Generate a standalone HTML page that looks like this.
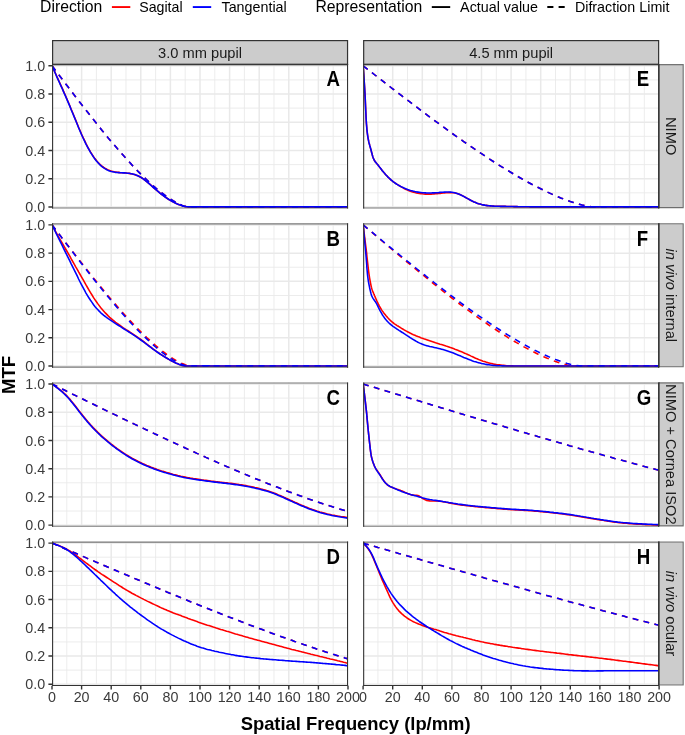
<!DOCTYPE html>
<html lang="en"><head><meta charset="utf-8"><title>MTF</title>
<style>html,body{margin:0;padding:0;background:#fff}svg{display:block}</style>
</head><body>
<svg width="685" height="735" viewBox="0 0 685 735" font-family="'Liberation Sans', Arial, Helvetica, sans-serif">
<rect width="685" height="735" fill="#fff"/>
<g>
<path d="M66.80 64.66V208.05M96.40 64.66V208.05M126.00 64.66V208.05M155.60 64.66V208.05M185.20 64.66V208.05M214.80 64.66V208.05M244.40 64.66V208.05M274.00 64.66V208.05M303.60 64.66V208.05M333.20 64.66V208.05M52.6 192.83H347.55M52.6 164.60H347.55M52.6 136.37H347.55M52.6 108.14H347.55M52.6 79.91H347.55" stroke="#e9e9e9" stroke-width="0.85" fill="none"/>
<path d="M81.60 64.66V208.05M111.20 64.66V208.05M140.80 64.66V208.05M170.40 64.66V208.05M200.00 64.66V208.05M229.60 64.66V208.05M259.20 64.66V208.05M288.80 64.66V208.05M318.40 64.66V208.05M52.6 206.94H347.55M52.6 178.71H347.55M52.6 150.48H347.55M52.6 122.26H347.55M52.6 94.03H347.55M52.6 65.80H347.55" stroke="#e9e9e9" stroke-width="1.5" fill="none"/>
<clipPath id="cp00"><rect x="52.6" y="64.66" width="294.95" height="143.39"/></clipPath>
<g clip-path="url(#cp00)" fill="none" stroke-width="1.58" stroke-linejoin="round">
<path d="M52 65.8L53.5 69L55 72.3L56.4 75.5L57.9 78.8L59.4 82L60.9 85.3L62.4 88.6L63.8 91.9L65.3 95.3L66.8 98.7L68.3 102.2L69.8 105.7L71.2 109.2L72.7 112.8L74.2 116.5L75.7 120.1L77.2 123.7L78.6 127.3L80.1 130.8L81.6 134.3L83.1 137.5L84.6 140.7L86 143.7L87.5 146.6L89 149.3L90.5 151.9L92 154.3L93.4 156.5L94.9 158.6L96.4 160.5L97.9 162.2L99.4 163.8L100.8 165.1L102.3 166.4L103.8 167.5L105.3 168.4L106.8 169.2L108.2 169.9L109.7 170.5L111.2 171L112.7 171.4L114.2 171.8L115.6 172L117.1 172.3L118.6 172.4L120.1 172.6L121.6 172.7L123 172.8L124.5 172.9L126 173L127.5 173.2L129 173.4L130.4 173.6L131.9 173.9L133.4 174.2L134.9 174.7L136.4 175.2L137.8 175.8L139.3 176.5L140.8 177.3L142.3 178.2L143.8 179.3L145.2 180.4L146.7 181.6L148.2 182.8L149.7 184.1L151.2 185.4L152.6 186.8L154.1 188.1L155.6 189.4L157.1 190.7L158.6 191.9L160 193.1L161.5 194.3L163 195.4L164.5 196.5L166 197.5L167.4 198.5L168.9 199.5L170.4 200.4L171.9 201.3L173.4 202.1L174.8 202.8L176.3 203.6L177.8 204.2L179.3 204.8L180.8 205.3L182.2 205.8L183.7 206.2L185.2 206.5L186.7 206.8L188.2 206.9L189.6 206.9L191.1 206.9L192.6 206.9L194.1 206.9L195.6 206.9L197 206.9L198.5 206.9L200 206.9L201.5 206.9L203 206.9L204.4 206.9L205.9 206.9L207.4 206.9L208.9 206.9L210.4 206.9L211.8 206.9L213.3 206.9L214.8 206.9L216.3 206.9L217.8 206.9L219.2 206.9L220.7 206.9L222.2 206.9L223.7 206.9L225.2 206.9L226.6 206.9L228.1 206.9L229.6 206.9L231.1 206.9L232.6 206.9L234 206.9L235.5 206.9L237 206.9L238.5 206.9L240 206.9L241.4 206.9L242.9 206.9L244.4 206.9L245.9 206.9L247.4 206.9L248.8 206.9L250.3 206.9L251.8 206.9L253.3 206.9L254.8 206.9L256.2 206.9L257.7 206.9L259.2 206.9L260.7 206.9L262.2 206.9L263.6 206.9L265.1 206.9L266.6 206.9L268.1 206.9L269.6 206.9L271 206.9L272.5 206.9L274 206.9L275.5 206.9L277 206.9L278.4 206.9L279.9 206.9L281.4 206.9L282.9 206.9L284.4 206.9L285.8 206.9L287.3 206.9L288.8 206.9L290.3 206.9L291.8 206.9L293.2 206.9L294.7 206.9L296.2 206.9L297.7 206.9L299.2 206.9L300.6 206.9L302.1 206.9L303.6 206.9L305.1 206.9L306.6 206.9L308 206.9L309.5 206.9L311 206.9L312.5 206.9L314 206.9L315.4 206.9L316.9 206.9L318.4 206.9L319.9 206.9L321.4 206.9L322.8 206.9L324.3 206.9L325.8 206.9L327.3 206.9L328.8 206.9L330.2 206.9L331.7 206.9L333.2 206.9L334.7 206.9L336.2 206.9L337.6 206.9L339.1 206.9L340.6 206.9L342.1 206.9L343.6 206.9L345 206.9L346.5 206.9L348 206.9" stroke="#ff0000"/>
<path d="M52 65.8L55 69.7L57.9 73.6L60.9 77.5L63.8 81.4L66.8 85.3L69.8 89.2L72.7 93L75.7 96.9L78.6 100.7L81.6 104.6L84.6 108.4L87.5 112.1L90.5 115.9L93.4 119.6L96.4 123.3L99.4 127L102.3 130.7L105.3 134.3L108.2 137.9L111.2 141.4L114.2 144.9L117.1 148.3L120.1 151.8L123 155.1L126 158.4L129 161.7L131.9 164.9L134.9 168L137.8 171.1L140.8 174.1L143.8 177L146.7 179.8L149.7 182.6L152.6 185.3L155.6 187.9L158.6 190.3L161.5 192.7L164.5 195L167.4 197.1L170.4 199.1L173.4 201L176.3 202.7L179.3 204.1L182.2 205.4L185.2 206.4L188.2 206.9L191.1 206.9L194.1 206.9L197 206.9L200 206.9L203 206.9L205.9 206.9L208.9 206.9L211.8 206.9L214.8 206.9L217.8 206.9L220.7 206.9L223.7 206.9L226.6 206.9L229.6 206.9L232.6 206.9L235.5 206.9L238.5 206.9L241.4 206.9L244.4 206.9L247.4 206.9L250.3 206.9L253.3 206.9L256.2 206.9L259.2 206.9L262.2 206.9L265.1 206.9L268.1 206.9L271 206.9L274 206.9L277 206.9L279.9 206.9L282.9 206.9L285.8 206.9L288.8 206.9L291.8 206.9L294.7 206.9L297.7 206.9L300.6 206.9L303.6 206.9L306.6 206.9L309.5 206.9L312.5 206.9L315.4 206.9L318.4 206.9L321.4 206.9L324.3 206.9L327.3 206.9L330.2 206.9L333.2 206.9L336.2 206.9L339.1 206.9L342.1 206.9L345 206.9L348 206.9" stroke="#ff0000" stroke-dasharray="5.8 5.4"/>
<path d="M52 65.8L53.5 69.1L55 72.5L56.4 75.8L57.9 79.1L59.4 82.5L60.9 85.8L62.4 89L63.8 92.4L65.3 95.7L66.8 99.1L68.3 102.6L69.8 106.1L71.2 109.7L72.7 113.3L74.2 116.9L75.7 120.5L77.2 124.2L78.6 127.7L80.1 131.3L81.6 134.7L83.1 138L84.6 141.1L86 144.1L87.5 147L89 149.7L90.5 152.3L92 154.7L93.4 156.9L94.9 159L96.4 160.9L97.9 162.6L99.4 164.2L100.8 165.6L102.3 166.8L103.8 167.9L105.3 168.9L106.8 169.7L108.2 170.4L109.7 171L111.2 171.5L112.7 171.8L114.2 172.1L115.6 172.4L117.1 172.5L118.6 172.6L120.1 172.7L121.6 172.8L123 172.9L124.5 172.9L126 173L127.5 173.2L129 173.3L130.4 173.6L131.9 173.8L133.4 174.2L134.9 174.6L136.4 175.2L137.8 175.8L139.3 176.5L140.8 177.3L142.3 178.2L143.8 179.3L145.2 180.4L146.7 181.6L148.2 182.8L149.7 184.1L151.2 185.5L152.6 186.8L154.1 188.1L155.6 189.4L157.1 190.7L158.6 191.9L160 193.1L161.5 194.3L163 195.4L164.5 196.5L166 197.5L167.4 198.5L168.9 199.5L170.4 200.4L171.9 201.3L173.4 202.1L174.8 202.8L176.3 203.6L177.8 204.2L179.3 204.8L180.8 205.3L182.2 205.8L183.7 206.2L185.2 206.5L186.7 206.8L188.2 206.9L189.6 206.9L191.1 206.9L192.6 206.9L194.1 206.9L195.6 206.9L197 206.9L198.5 206.9L200 206.9L201.5 206.9L203 206.9L204.4 206.9L205.9 206.9L207.4 206.9L208.9 206.9L210.4 206.9L211.8 206.9L213.3 206.9L214.8 206.9L216.3 206.9L217.8 206.9L219.2 206.9L220.7 206.9L222.2 206.9L223.7 206.9L225.2 206.9L226.6 206.9L228.1 206.9L229.6 206.9L231.1 206.9L232.6 206.9L234 206.9L235.5 206.9L237 206.9L238.5 206.9L240 206.9L241.4 206.9L242.9 206.9L244.4 206.9L245.9 206.9L247.4 206.9L248.8 206.9L250.3 206.9L251.8 206.9L253.3 206.9L254.8 206.9L256.2 206.9L257.7 206.9L259.2 206.9L260.7 206.9L262.2 206.9L263.6 206.9L265.1 206.9L266.6 206.9L268.1 206.9L269.6 206.9L271 206.9L272.5 206.9L274 206.9L275.5 206.9L277 206.9L278.4 206.9L279.9 206.9L281.4 206.9L282.9 206.9L284.4 206.9L285.8 206.9L287.3 206.9L288.8 206.9L290.3 206.9L291.8 206.9L293.2 206.9L294.7 206.9L296.2 206.9L297.7 206.9L299.2 206.9L300.6 206.9L302.1 206.9L303.6 206.9L305.1 206.9L306.6 206.9L308 206.9L309.5 206.9L311 206.9L312.5 206.9L314 206.9L315.4 206.9L316.9 206.9L318.4 206.9L319.9 206.9L321.4 206.9L322.8 206.9L324.3 206.9L325.8 206.9L327.3 206.9L328.8 206.9L330.2 206.9L331.7 206.9L333.2 206.9L334.7 206.9L336.2 206.9L337.6 206.9L339.1 206.9L340.6 206.9L342.1 206.9L343.6 206.9L345 206.9L346.5 206.9L348 206.9" stroke="#0000ff"/>
<path d="M52 65.8L55 69.7L57.9 73.6L60.9 77.5L63.8 81.4L66.8 85.3L69.8 89.2L72.7 93L75.7 96.9L78.6 100.7L81.6 104.6L84.6 108.4L87.5 112.1L90.5 115.9L93.4 119.6L96.4 123.3L99.4 127L102.3 130.7L105.3 134.3L108.2 137.9L111.2 141.4L114.2 144.9L117.1 148.3L120.1 151.8L123 155.1L126 158.4L129 161.7L131.9 164.9L134.9 168L137.8 171.1L140.8 174.1L143.8 177L146.7 179.8L149.7 182.6L152.6 185.3L155.6 187.9L158.6 190.3L161.5 192.7L164.5 195L167.4 197.1L170.4 199.1L173.4 201L176.3 202.7L179.3 204.1L182.2 205.4L185.2 206.4L188.2 206.9L191.1 206.9L194.1 206.9L197 206.9L200 206.9L203 206.9L205.9 206.9L208.9 206.9L211.8 206.9L214.8 206.9L217.8 206.9L220.7 206.9L223.7 206.9L226.6 206.9L229.6 206.9L232.6 206.9L235.5 206.9L238.5 206.9L241.4 206.9L244.4 206.9L247.4 206.9L250.3 206.9L253.3 206.9L256.2 206.9L259.2 206.9L262.2 206.9L265.1 206.9L268.1 206.9L271 206.9L274 206.9L277 206.9L279.9 206.9L282.9 206.9L285.8 206.9L288.8 206.9L291.8 206.9L294.7 206.9L297.7 206.9L300.6 206.9L303.6 206.9L306.6 206.9L309.5 206.9L312.5 206.9L315.4 206.9L318.4 206.9L321.4 206.9L324.3 206.9L327.3 206.9L330.2 206.9L333.2 206.9L336.2 206.9L339.1 206.9L342.1 206.9L345 206.9L348 206.9" stroke="#0000ff" stroke-dasharray="5.8 5.4"/>
</g>
<path d="M52.6 64.11V208.55M347.55 64.11V208.55" stroke="#333333" stroke-width="1.1" fill="none"/>
<path d="M52.05 64.66H348.10" stroke="#333333" stroke-width="1.1" fill="none" stroke-opacity="1"/>
<path d="M52.05 208.00H348.10" stroke="#333333" stroke-width="1.1" fill="none" stroke-opacity="0.66"/>
<text transform="translate(326.6,86.41) scale(0.86,1)" font-size="21.7" font-weight="bold" fill="#000">A</text>
</g>
<g>
<path d="M66.80 223.76V367.15M96.40 223.76V367.15M126.00 223.76V367.15M155.60 223.76V367.15M185.20 223.76V367.15M214.80 223.76V367.15M244.40 223.76V367.15M274.00 223.76V367.15M303.60 223.76V367.15M333.20 223.76V367.15M52.6 351.93H347.55M52.6 323.70H347.55M52.6 295.47H347.55M52.6 267.24H347.55M52.6 239.01H347.55" stroke="#e9e9e9" stroke-width="0.85" fill="none"/>
<path d="M81.60 223.76V367.15M111.20 223.76V367.15M140.80 223.76V367.15M170.40 223.76V367.15M200.00 223.76V367.15M229.60 223.76V367.15M259.20 223.76V367.15M288.80 223.76V367.15M318.40 223.76V367.15M52.6 366.04H347.55M52.6 337.81H347.55M52.6 309.58H347.55M52.6 281.36H347.55M52.6 253.13H347.55M52.6 224.90H347.55" stroke="#e9e9e9" stroke-width="1.5" fill="none"/>
<clipPath id="cp01"><rect x="52.6" y="223.76" width="294.95" height="143.39"/></clipPath>
<g clip-path="url(#cp01)" fill="none" stroke-width="1.58" stroke-linejoin="round">
<path d="M52 224.9L53.5 227.6L55 230.3L56.4 233L57.9 235.7L59.4 238.3L60.9 240.9L62.4 243.4L63.8 245.9L65.3 248.5L66.8 251L68.3 253.6L69.8 256.2L71.2 258.9L72.7 261.5L74.2 264.1L75.7 266.8L77.2 269.3L78.6 271.9L80.1 274.5L81.6 277.1L83.1 279.7L84.6 282.3L86 284.9L87.5 287.5L89 290.1L90.5 292.6L92 295L93.4 297.4L94.9 299.6L96.4 301.8L97.9 303.9L99.4 305.9L100.8 307.8L102.3 309.5L103.8 311.2L105.3 312.9L106.8 314.4L108.2 315.9L109.7 317.3L111.2 318.6L112.7 319.9L114.2 321.1L115.6 322.3L117.1 323.4L118.6 324.5L120.1 325.5L121.6 326.6L123 327.6L124.5 328.6L126 329.6L127.5 330.5L129 331.5L130.4 332.5L131.9 333.4L133.4 334.4L134.9 335.4L136.4 336.4L137.8 337.4L139.3 338.5L140.8 339.5L142.3 340.6L143.8 341.7L145.2 342.9L146.7 344L148.2 345.2L149.7 346.3L151.2 347.4L152.6 348.6L154.1 349.7L155.6 350.8L157.1 351.8L158.6 352.9L160 353.9L161.5 354.9L163 355.8L164.5 356.7L166 357.6L167.4 358.5L168.9 359.4L170.4 360.2L171.9 361L173.4 361.8L174.8 362.5L176.3 363.2L177.8 363.8L179.3 364.4L180.8 364.9L182.2 365.4L183.7 365.7L185.2 366L186.7 366L188.2 366L189.6 366L191.1 366L192.6 366L194.1 366L195.6 366L197 366L198.5 366L200 366L201.5 366L203 365.9L204.4 365.9L205.9 365.9L207.4 365.9L208.9 365.9L210.4 366L211.8 366L213.3 366L214.8 366L216.3 366L217.8 366L219.2 366L220.7 366L222.2 366L223.7 366L225.2 366L226.6 366L228.1 366L229.6 366L231.1 366L232.6 366L234 366L235.5 366L237 366L238.5 366L240 366L241.4 366L242.9 366L244.4 366L245.9 366L247.4 366L248.8 366L250.3 366L251.8 366L253.3 366L254.8 366L256.2 366L257.7 366L259.2 366L260.7 366L262.2 366L263.6 366L265.1 366L266.6 366L268.1 366L269.6 366L271 366L272.5 366L274 366L275.5 366L277 366L278.4 366L279.9 366L281.4 366L282.9 366L284.4 366L285.8 366L287.3 366L288.8 366L290.3 366L291.8 366L293.2 366L294.7 366L296.2 366L297.7 366L299.2 366L300.6 366L302.1 366L303.6 366L305.1 366L306.6 366L308 366L309.5 366L311 366L312.5 366L314 366L315.4 366L316.9 366L318.4 366L319.9 366L321.4 366L322.8 366L324.3 366L325.8 366L327.3 366L328.8 366L330.2 366L331.7 366L333.2 366L334.7 366L336.2 366L337.6 366L339.1 366L340.6 366L342.1 366L343.6 366L345 366L346.5 366L348 366" stroke="#ff0000"/>
<path d="M52 224.9L55 228.7L57.9 232.6L60.9 236.4L63.8 240.3L66.8 244.1L69.8 247.9L72.7 251.7L75.7 255.5L78.6 259.3L81.6 263L84.6 266.8L87.5 270.5L90.5 274.2L93.4 277.9L96.4 281.6L99.4 285.2L102.3 288.8L105.3 292.3L108.2 295.9L111.2 299.4L114.2 302.8L117.1 306.2L120.1 309.6L123 312.9L126 316.2L129 319.4L131.9 322.6L134.9 325.7L137.8 328.7L140.8 331.7L143.8 334.6L146.7 337.5L149.7 340.2L152.6 342.9L155.6 345.5L158.6 348L161.5 350.4L164.5 352.7L167.4 354.9L170.4 356.9L173.4 358.9L176.3 360.6L179.3 362.2L182.2 363.6L185.2 364.8L188.2 365.7L191.1 366L194.1 366L197 366L200 366L203 366L205.9 366L208.9 366L211.8 366L214.8 366L217.8 366L220.7 366L223.7 366L226.6 366L229.6 366L232.6 366L235.5 366L238.5 366L241.4 366L244.4 366L247.4 366L250.3 366L253.3 366L256.2 366L259.2 366L262.2 366L265.1 366L268.1 366L271 366L274 366L277 366L279.9 366L282.9 366L285.8 366L288.8 366L291.8 366L294.7 366L297.7 366L300.6 366L303.6 366L306.6 366L309.5 366L312.5 366L315.4 366L318.4 366L321.4 366L324.3 366L327.3 366L330.2 366L333.2 366L336.2 366L339.1 366L342.1 366L345 366L348 366" stroke="#ff0000" stroke-dasharray="5.8 5.4"/>
<path d="M52 224.9L53.5 227.9L55 230.9L56.4 233.9L57.9 236.9L59.4 239.9L60.9 242.9L62.4 245.9L63.8 248.8L65.3 251.8L66.8 254.8L68.3 257.8L69.8 260.8L71.2 263.8L72.7 266.8L74.2 269.8L75.7 272.8L77.2 275.9L78.6 279L80.1 282L81.6 284.9L83.1 287.7L84.6 290.4L86 293.1L87.5 295.6L89 298L90.5 300.3L92 302.4L93.4 304.5L94.9 306.4L96.4 308.2L97.9 309.8L99.4 311.4L100.8 312.8L102.3 314.1L103.8 315.4L105.3 316.5L106.8 317.7L108.2 318.7L109.7 319.7L111.2 320.7L112.7 321.7L114.2 322.7L115.6 323.6L117.1 324.5L118.6 325.5L120.1 326.4L121.6 327.3L123 328.3L124.5 329.2L126 330.1L127.5 331.1L129 332L130.4 332.9L131.9 333.9L133.4 334.9L134.9 335.9L136.4 336.9L137.8 337.9L139.3 338.9L140.8 340L142.3 341L143.8 342.1L145.2 343.2L146.7 344.3L148.2 345.5L149.7 346.6L151.2 347.7L152.6 348.8L154.1 349.9L155.6 350.9L157.1 352L158.6 353L160 354L161.5 354.9L163 355.9L164.5 356.8L166 357.7L167.4 358.5L168.9 359.4L170.4 360.2L171.9 361L173.4 361.8L174.8 362.5L176.3 363.2L177.8 363.8L179.3 364.4L180.8 364.9L182.2 365.4L183.7 365.7L185.2 366L186.7 366L188.2 366L189.6 366L191.1 366L192.6 366L194.1 366L195.6 366L197 366L198.5 366L200 366L201.5 366L203 365.9L204.4 365.9L205.9 365.9L207.4 365.9L208.9 365.9L210.4 366L211.8 366L213.3 366L214.8 366L216.3 366L217.8 366L219.2 366L220.7 366L222.2 366L223.7 366L225.2 366L226.6 366L228.1 366L229.6 366L231.1 366L232.6 366L234 366L235.5 366L237 366L238.5 366L240 366L241.4 366L242.9 366L244.4 366L245.9 366L247.4 366L248.8 366L250.3 366L251.8 366L253.3 366L254.8 366L256.2 366L257.7 366L259.2 366L260.7 366L262.2 366L263.6 366L265.1 366L266.6 366L268.1 366L269.6 366L271 366L272.5 366L274 366L275.5 366L277 366L278.4 366L279.9 366L281.4 366L282.9 366L284.4 366L285.8 366L287.3 366L288.8 366L290.3 366L291.8 366L293.2 366L294.7 366L296.2 366L297.7 366L299.2 366L300.6 366L302.1 366L303.6 366L305.1 366L306.6 366L308 366L309.5 366L311 366L312.5 366L314 366L315.4 366L316.9 366L318.4 366L319.9 366L321.4 366L322.8 366L324.3 366L325.8 366L327.3 366L328.8 366L330.2 366L331.7 366L333.2 366L334.7 366L336.2 366L337.6 366L339.1 366L340.6 366L342.1 366L343.6 366L345 366L346.5 366L348 366" stroke="#0000ff"/>
<path d="M52 224.9L55 228.8L57.9 232.7L60.9 236.6L63.8 240.5L66.8 244.4L69.8 248.3L72.7 252.1L75.7 256L78.6 259.8L81.6 263.7L84.6 267.5L87.5 271.2L90.5 275L93.4 278.7L96.4 282.4L99.4 286.1L102.3 289.8L105.3 293.4L108.2 297L111.2 300.5L114.2 304L117.1 307.4L120.1 310.9L123 314.2L126 317.5L129 320.8L131.9 324L134.9 327.1L137.8 330.2L140.8 333.2L143.8 336.1L146.7 338.9L149.7 341.7L152.6 344.4L155.6 347L158.6 349.4L161.5 351.8L164.5 354.1L167.4 356.2L170.4 358.2L173.4 360.1L176.3 361.8L179.3 363.2L182.2 364.5L185.2 365.5L188.2 366L191.1 366L194.1 366L197 366L200 366L203 366L205.9 366L208.9 366L211.8 366L214.8 366L217.8 366L220.7 366L223.7 366L226.6 366L229.6 366L232.6 366L235.5 366L238.5 366L241.4 366L244.4 366L247.4 366L250.3 366L253.3 366L256.2 366L259.2 366L262.2 366L265.1 366L268.1 366L271 366L274 366L277 366L279.9 366L282.9 366L285.8 366L288.8 366L291.8 366L294.7 366L297.7 366L300.6 366L303.6 366L306.6 366L309.5 366L312.5 366L315.4 366L318.4 366L321.4 366L324.3 366L327.3 366L330.2 366L333.2 366L336.2 366L339.1 366L342.1 366L345 366L348 366" stroke="#0000ff" stroke-dasharray="5.8 5.4"/>
</g>
<path d="M52.6 223.36V367.65M347.55 223.36V367.65" stroke="#333333" stroke-width="1.1" fill="none"/>
<path d="M52.05 223.91H348.10" stroke="#333333" stroke-width="1.1" fill="none" stroke-opacity="0.66"/>
<path d="M52.05 367.10H348.10" stroke="#333333" stroke-width="1.1" fill="none" stroke-opacity="0.66"/>
<text transform="translate(326.6,245.51) scale(0.86,1)" font-size="21.7" font-weight="bold" fill="#000">B</text>
</g>
<g>
<path d="M66.80 382.86V526.25M96.40 382.86V526.25M126.00 382.86V526.25M155.60 382.86V526.25M185.20 382.86V526.25M214.80 382.86V526.25M244.40 382.86V526.25M274.00 382.86V526.25M303.60 382.86V526.25M333.20 382.86V526.25M52.6 511.03H347.55M52.6 482.80H347.55M52.6 454.57H347.55M52.6 426.34H347.55M52.6 398.11H347.55" stroke="#e9e9e9" stroke-width="0.85" fill="none"/>
<path d="M81.60 382.86V526.25M111.20 382.86V526.25M140.80 382.86V526.25M170.40 382.86V526.25M200.00 382.86V526.25M229.60 382.86V526.25M259.20 382.86V526.25M288.80 382.86V526.25M318.40 382.86V526.25M52.6 525.14H347.55M52.6 496.91H347.55M52.6 468.68H347.55M52.6 440.46H347.55M52.6 412.23H347.55M52.6 384.00H347.55" stroke="#e9e9e9" stroke-width="1.5" fill="none"/>
<clipPath id="cp02"><rect x="52.6" y="382.86" width="294.95" height="143.39"/></clipPath>
<g clip-path="url(#cp02)" fill="none" stroke-width="1.58" stroke-linejoin="round">
<path d="M52 384L53.5 385L55 386L56.4 387.1L57.9 388.2L59.4 389.3L60.9 390.5L62.4 391.7L63.8 393L65.3 394.4L66.8 395.9L68.3 397.5L69.8 399.1L71.2 400.9L72.7 402.7L74.2 404.6L75.7 406.5L77.2 408.4L78.6 410.3L80.1 412.2L81.6 414.1L83.1 416L84.6 417.8L86 419.6L87.5 421.3L89 423L90.5 424.7L92 426.3L93.4 427.9L94.9 429.4L96.4 430.9L97.9 432.4L99.4 433.8L100.8 435.2L102.3 436.6L103.8 437.9L105.3 439.2L106.8 440.4L108.2 441.7L109.7 442.9L111.2 444.1L112.7 445.2L114.2 446.4L115.6 447.5L117.1 448.6L118.6 449.6L120.1 450.7L121.6 451.7L123 452.7L124.5 453.7L126 454.6L127.5 455.5L129 456.4L130.4 457.3L131.9 458.1L133.4 458.9L134.9 459.7L136.4 460.5L137.8 461.3L139.3 462L140.8 462.7L142.3 463.4L143.8 464.1L145.2 464.7L146.7 465.4L148.2 466L149.7 466.6L151.2 467.2L152.6 467.7L154.1 468.3L155.6 468.8L157.1 469.4L158.6 469.9L160 470.4L161.5 470.9L163 471.3L164.5 471.8L166 472.3L167.4 472.7L168.9 473.1L170.4 473.6L171.9 474L173.4 474.4L174.8 474.7L176.3 475.1L177.8 475.5L179.3 475.8L180.8 476.2L182.2 476.5L183.7 476.8L185.2 477.1L186.7 477.4L188.2 477.7L189.6 477.9L191.1 478.2L192.6 478.4L194.1 478.7L195.6 478.9L197 479.1L198.5 479.3L200 479.5L201.5 479.8L203 480L204.4 480.2L205.9 480.4L207.4 480.6L208.9 480.8L210.4 481L211.8 481.2L213.3 481.3L214.8 481.5L216.3 481.7L217.8 481.9L219.2 482L220.7 482.2L222.2 482.4L223.7 482.5L225.2 482.7L226.6 482.9L228.1 483.1L229.6 483.2L231.1 483.4L232.6 483.6L234 483.8L235.5 484L237 484.2L238.5 484.4L240 484.7L241.4 484.9L242.9 485.1L244.4 485.4L245.9 485.6L247.4 485.9L248.8 486.2L250.3 486.5L251.8 486.8L253.3 487.1L254.8 487.5L256.2 487.8L257.7 488.1L259.2 488.5L260.7 488.9L262.2 489.3L263.6 489.7L265.1 490.1L266.6 490.6L268.1 491L269.6 491.5L271 492L272.5 492.5L274 493.1L275.5 493.6L277 494.2L278.4 494.9L279.9 495.5L281.4 496.1L282.9 496.8L284.4 497.5L285.8 498.1L287.3 498.8L288.8 499.5L290.3 500.2L291.8 500.8L293.2 501.5L294.7 502.2L296.2 502.8L297.7 503.5L299.2 504.2L300.6 504.8L302.1 505.4L303.6 506L305.1 506.7L306.6 507.2L308 507.8L309.5 508.4L311 508.9L312.5 509.5L314 510L315.4 510.5L316.9 511L318.4 511.4L319.9 511.9L321.4 512.3L322.8 512.7L324.3 513.1L325.8 513.5L327.3 513.9L328.8 514.2L330.2 514.5L331.7 514.9L333.2 515.2L334.7 515.4L336.2 515.7L337.6 516L339.1 516.2L340.6 516.5L342.1 516.7L343.6 516.9L345 517.1L346.5 517.4L348 517.6" stroke="#ff0000"/>
<path d="M52 384L55 385.5L57.9 386.9L60.9 388.4L63.8 389.8L66.8 391.3L69.8 392.7L72.7 394.2L75.7 395.6L78.6 397.1L81.6 398.5L84.6 400L87.5 401.4L90.5 402.9L93.4 404.3L96.4 405.8L99.4 407.2L102.3 408.7L105.3 410.1L108.2 411.5L111.2 413L114.2 414.4L117.1 415.8L120.1 417.3L123 418.7L126 420.1L129 421.6L131.9 423L134.9 424.4L137.8 425.8L140.8 427.2L143.8 428.6L146.7 430L149.7 431.4L152.6 432.8L155.6 434.2L158.6 435.6L161.5 437L164.5 438.4L167.4 439.8L170.4 441.2L173.4 442.5L176.3 443.9L179.3 445.3L182.2 446.6L185.2 448L188.2 449.4L191.1 450.7L194.1 452L197 453.4L200 454.7L203 456L205.9 457.4L208.9 458.7L211.8 460L214.8 461.3L217.8 462.6L220.7 463.9L223.7 465.2L226.6 466.5L229.6 467.7L232.6 469L235.5 470.3L238.5 471.5L241.4 472.8L244.4 474L247.4 475.2L250.3 476.5L253.3 477.7L256.2 478.9L259.2 480.1L262.2 481.3L265.1 482.5L268.1 483.7L271 484.8L274 486L277 487.1L279.9 488.3L282.9 489.4L285.8 490.5L288.8 491.7L291.8 492.8L294.7 493.9L297.7 494.9L300.6 496L303.6 497.1L306.6 498.1L309.5 499.2L312.5 500.2L315.4 501.2L318.4 502.2L321.4 503.2L324.3 504.2L327.3 505.1L330.2 506.1L333.2 507L336.2 507.9L339.1 508.9L342.1 509.7L345 510.6L348 511.5" stroke="#ff0000" stroke-dasharray="5.8 5.4"/>
<path d="M52 384L53.5 385.1L55 386.2L56.4 387.3L57.9 388.4L59.4 389.6L60.9 390.9L62.4 392.1L63.8 393.5L65.3 394.9L66.8 396.4L68.3 398.1L69.8 399.8L71.2 401.5L72.7 403.3L74.2 405.2L75.7 407.1L77.2 409L78.6 410.9L80.1 412.8L81.6 414.7L83.1 416.5L84.6 418.4L86 420.1L87.5 421.9L89 423.6L90.5 425.2L92 426.9L93.4 428.5L94.9 430L96.4 431.5L97.9 433L99.4 434.4L100.8 435.8L102.3 437.1L103.8 438.5L105.3 439.7L106.8 441L108.2 442.2L109.7 443.4L111.2 444.6L112.7 445.8L114.2 446.9L115.6 448L117.1 449.1L118.6 450.2L120.1 451.2L121.6 452.3L123 453.2L124.5 454.2L126 455.2L127.5 456.1L129 457L130.4 457.8L131.9 458.7L133.4 459.5L134.9 460.3L136.4 461.1L137.8 461.8L139.3 462.6L140.8 463.3L142.3 464L143.8 464.7L145.2 465.3L146.7 465.9L148.2 466.6L149.7 467.2L151.2 467.8L152.6 468.3L154.1 468.9L155.6 469.4L157.1 469.9L158.6 470.5L160 471L161.5 471.4L163 471.9L164.5 472.4L166 472.8L167.4 473.3L168.9 473.7L170.4 474.1L171.9 474.5L173.4 474.9L174.8 475.3L176.3 475.7L177.8 476L179.3 476.4L180.8 476.7L182.2 477.1L183.7 477.4L185.2 477.7L186.7 478L188.2 478.2L189.6 478.5L191.1 478.7L192.6 479L194.1 479.2L195.6 479.4L197 479.7L198.5 479.9L200 480.1L201.5 480.3L203 480.5L204.4 480.7L205.9 480.9L207.4 481.1L208.9 481.3L210.4 481.5L211.8 481.7L213.3 481.9L214.8 482.1L216.3 482.3L217.8 482.4L219.2 482.6L220.7 482.8L222.2 482.9L223.7 483.1L225.2 483.3L226.6 483.4L228.1 483.6L229.6 483.8L231.1 484L232.6 484.2L234 484.4L235.5 484.6L237 484.8L238.5 485L240 485.2L241.4 485.4L242.9 485.7L244.4 485.9L245.9 486.2L247.4 486.5L248.8 486.8L250.3 487.1L251.8 487.4L253.3 487.7L254.8 488L256.2 488.4L257.7 488.7L259.2 489.1L260.7 489.5L262.2 489.9L263.6 490.3L265.1 490.7L266.6 491.1L268.1 491.6L269.6 492.1L271 492.6L272.5 493.1L274 493.6L275.5 494.2L277 494.8L278.4 495.4L279.9 496L281.4 496.7L282.9 497.3L284.4 498L285.8 498.7L287.3 499.4L288.8 500L290.3 500.7L291.8 501.4L293.2 502.1L294.7 502.7L296.2 503.4L297.7 504.1L299.2 504.7L300.6 505.4L302.1 506L303.6 506.6L305.1 507.2L306.6 507.8L308 508.4L309.5 509L311 509.5L312.5 510.1L314 510.6L315.4 511.1L316.9 511.6L318.4 512L319.9 512.5L321.4 512.9L322.8 513.3L324.3 513.7L325.8 514.1L327.3 514.4L328.8 514.8L330.2 515.1L331.7 515.4L333.2 515.7L334.7 516L336.2 516.3L337.6 516.5L339.1 516.8L340.6 517L342.1 517.3L343.6 517.5L345 517.7L346.5 517.9L348 518.2" stroke="#0000ff"/>
<path d="M52 384L55 385.5L57.9 386.9L60.9 388.4L63.8 389.8L66.8 391.3L69.8 392.7L72.7 394.2L75.7 395.6L78.6 397.1L81.6 398.5L84.6 400L87.5 401.4L90.5 402.9L93.4 404.3L96.4 405.8L99.4 407.2L102.3 408.7L105.3 410.1L108.2 411.5L111.2 413L114.2 414.4L117.1 415.8L120.1 417.3L123 418.7L126 420.1L129 421.6L131.9 423L134.9 424.4L137.8 425.8L140.8 427.2L143.8 428.6L146.7 430L149.7 431.4L152.6 432.8L155.6 434.2L158.6 435.6L161.5 437L164.5 438.4L167.4 439.8L170.4 441.2L173.4 442.5L176.3 443.9L179.3 445.3L182.2 446.6L185.2 448L188.2 449.4L191.1 450.7L194.1 452L197 453.4L200 454.7L203 456L205.9 457.4L208.9 458.7L211.8 460L214.8 461.3L217.8 462.6L220.7 463.9L223.7 465.2L226.6 466.5L229.6 467.7L232.6 469L235.5 470.3L238.5 471.5L241.4 472.8L244.4 474L247.4 475.2L250.3 476.5L253.3 477.7L256.2 478.9L259.2 480.1L262.2 481.3L265.1 482.5L268.1 483.7L271 484.8L274 486L277 487.1L279.9 488.3L282.9 489.4L285.8 490.5L288.8 491.7L291.8 492.8L294.7 493.9L297.7 494.9L300.6 496L303.6 497.1L306.6 498.1L309.5 499.2L312.5 500.2L315.4 501.2L318.4 502.2L321.4 503.2L324.3 504.2L327.3 505.1L330.2 506.1L333.2 507L336.2 507.9L339.1 508.9L342.1 509.7L345 510.6L348 511.5" stroke="#0000ff" stroke-dasharray="5.8 5.4"/>
</g>
<path d="M52.6 382.46V526.75M347.55 382.46V526.75" stroke="#333333" stroke-width="1.1" fill="none"/>
<path d="M52.05 383.01H348.10" stroke="#333333" stroke-width="1.1" fill="none" stroke-opacity="0.66"/>
<path d="M52.05 526.20H348.10" stroke="#333333" stroke-width="1.1" fill="none" stroke-opacity="0.66"/>
<text transform="translate(326.6,404.61) scale(0.86,1)" font-size="21.7" font-weight="bold" fill="#000">C</text>
</g>
<g>
<path d="M66.80 541.96V685.35M96.40 541.96V685.35M126.00 541.96V685.35M155.60 541.96V685.35M185.20 541.96V685.35M214.80 541.96V685.35M244.40 541.96V685.35M274.00 541.96V685.35M303.60 541.96V685.35M333.20 541.96V685.35M52.6 670.13H347.55M52.6 641.90H347.55M52.6 613.67H347.55M52.6 585.44H347.55M52.6 557.21H347.55" stroke="#e9e9e9" stroke-width="0.85" fill="none"/>
<path d="M81.60 541.96V685.35M111.20 541.96V685.35M140.80 541.96V685.35M170.40 541.96V685.35M200.00 541.96V685.35M229.60 541.96V685.35M259.20 541.96V685.35M288.80 541.96V685.35M318.40 541.96V685.35M52.6 684.24H347.55M52.6 656.01H347.55M52.6 627.78H347.55M52.6 599.56H347.55M52.6 571.33H347.55M52.6 543.10H347.55" stroke="#e9e9e9" stroke-width="1.5" fill="none"/>
<clipPath id="cp03"><rect x="52.6" y="541.96" width="294.95" height="143.39"/></clipPath>
<g clip-path="url(#cp03)" fill="none" stroke-width="1.58" stroke-linejoin="round">
<path d="M52 543.1L53.5 543.6L55 544.1L56.4 544.7L57.9 545.2L59.4 545.8L60.9 546.4L62.4 547.1L63.8 547.8L65.3 548.5L66.8 549.3L68.3 550.1L69.8 551L71.2 552L72.7 553L74.2 554L75.7 555.1L77.2 556.2L78.6 557.3L80.1 558.4L81.6 559.5L83.1 560.7L84.6 561.8L86 562.9L87.5 564L89 565.1L90.5 566.2L92 567.3L93.4 568.4L94.9 569.5L96.4 570.5L97.9 571.6L99.4 572.6L100.8 573.6L102.3 574.6L103.8 575.5L105.3 576.5L106.8 577.5L108.2 578.4L109.7 579.4L111.2 580.3L112.7 581.3L114.2 582.3L115.6 583.2L117.1 584.2L118.6 585.2L120.1 586.1L121.6 587L123 588L124.5 588.9L126 589.8L127.5 590.6L129 591.5L130.4 592.3L131.9 593.2L133.4 594L134.9 594.8L136.4 595.6L137.8 596.3L139.3 597.1L140.8 597.9L142.3 598.6L143.8 599.4L145.2 600.1L146.7 600.9L148.2 601.6L149.7 602.3L151.2 603L152.6 603.7L154.1 604.4L155.6 605.1L157.1 605.8L158.6 606.5L160 607.2L161.5 607.9L163 608.5L164.5 609.2L166 609.8L167.4 610.5L168.9 611.1L170.4 611.7L171.9 612.3L173.4 612.9L174.8 613.4L176.3 614L177.8 614.5L179.3 615.1L180.8 615.6L182.2 616.2L183.7 616.7L185.2 617.3L186.7 617.8L188.2 618.4L189.6 618.9L191.1 619.5L192.6 620L194.1 620.5L195.6 621.1L197 621.6L198.5 622.2L200 622.7L201.5 623.2L203 623.7L204.4 624.2L205.9 624.7L207.4 625.2L208.9 625.6L210.4 626.1L211.8 626.6L213.3 627.1L214.8 627.5L216.3 628L217.8 628.4L219.2 628.9L220.7 629.4L222.2 629.8L223.7 630.3L225.2 630.7L226.6 631.2L228.1 631.6L229.6 632.1L231.1 632.5L232.6 633L234 633.4L235.5 633.9L237 634.3L238.5 634.8L240 635.2L241.4 635.6L242.9 636.1L244.4 636.5L245.9 636.9L247.4 637.3L248.8 637.8L250.3 638.2L251.8 638.6L253.3 639L254.8 639.4L256.2 639.8L257.7 640.2L259.2 640.6L260.7 641L262.2 641.4L263.6 641.8L265.1 642.2L266.6 642.6L268.1 643L269.6 643.4L271 643.8L272.5 644.2L274 644.6L275.5 645L277 645.4L278.4 645.8L279.9 646.2L281.4 646.6L282.9 647L284.4 647.4L285.8 647.8L287.3 648.2L288.8 648.6L290.3 649L291.8 649.4L293.2 649.7L294.7 650.1L296.2 650.5L297.7 650.8L299.2 651.2L300.6 651.6L302.1 651.9L303.6 652.3L305.1 652.7L306.6 653.1L308 653.4L309.5 653.8L311 654.2L312.5 654.5L314 654.9L315.4 655.3L316.9 655.6L318.4 656L319.9 656.4L321.4 656.7L322.8 657.1L324.3 657.4L325.8 657.8L327.3 658.2L328.8 658.5L330.2 658.9L331.7 659.2L333.2 659.6L334.7 659.9L336.2 660.3L337.6 660.7L339.1 661L340.6 661.4L342.1 661.8L343.6 662.2L345 662.5L346.5 662.9L348 663.3" stroke="#ff0000"/>
<path d="M52 543.1L55 544.4L57.9 545.6L60.9 546.9L63.8 548.2L66.8 549.5L69.8 550.7L72.7 552L75.7 553.3L78.6 554.6L81.6 555.8L84.6 557.1L87.5 558.4L90.5 559.6L93.4 560.9L96.4 562.2L99.4 563.4L102.3 564.7L105.3 566L108.2 567.2L111.2 568.5L114.2 569.8L117.1 571L120.1 572.3L123 573.5L126 574.8L129 576L131.9 577.3L134.9 578.6L137.8 579.8L140.8 581L143.8 582.3L146.7 583.5L149.7 584.8L152.6 586L155.6 587.2L158.6 588.5L161.5 589.7L164.5 590.9L167.4 592.2L170.4 593.4L173.4 594.6L176.3 595.8L179.3 597L182.2 598.3L185.2 599.5L188.2 600.7L191.1 601.9L194.1 603.1L197 604.3L200 605.5L203 606.7L205.9 607.8L208.9 609L211.8 610.2L214.8 611.4L217.8 612.5L220.7 613.7L223.7 614.9L226.6 616L229.6 617.2L232.6 618.3L235.5 619.5L238.5 620.6L241.4 621.8L244.4 622.9L247.4 624L250.3 625.2L253.3 626.3L256.2 627.4L259.2 628.5L262.2 629.6L265.1 630.7L268.1 631.8L271 632.9L274 634L277 635L279.9 636.1L282.9 637.2L285.8 638.2L288.8 639.3L291.8 640.3L294.7 641.4L297.7 642.4L300.6 643.4L303.6 644.5L306.6 645.5L309.5 646.5L312.5 647.5L315.4 648.5L318.4 649.5L321.4 650.4L324.3 651.4L327.3 652.4L330.2 653.3L333.2 654.3L336.2 655.2L339.1 656.1L342.1 657L345 658L348 658.9" stroke="#ff0000" stroke-dasharray="5.8 5.4"/>
<path d="M52 543.1L53.5 543.6L55 544.2L56.4 544.7L57.9 545.3L59.4 545.9L60.9 546.6L62.4 547.3L63.8 548L65.3 548.8L66.8 549.7L68.3 550.7L69.8 551.7L71.2 552.8L72.7 553.9L74.2 555.1L75.7 556.4L77.2 557.7L78.6 559L80.1 560.3L81.6 561.7L83.1 563.1L84.6 564.5L86 565.9L87.5 567.3L89 568.7L90.5 570.2L92 571.6L93.4 573L94.9 574.5L96.4 575.9L97.9 577.4L99.4 578.8L100.8 580.3L102.3 581.7L103.8 583.1L105.3 584.5L106.8 586L108.2 587.4L109.7 588.8L111.2 590.2L112.7 591.6L114.2 592.9L115.6 594.3L117.1 595.7L118.6 597L120.1 598.3L121.6 599.6L123 600.9L124.5 602.2L126 603.4L127.5 604.7L129 605.9L130.4 607.1L131.9 608.2L133.4 609.4L134.9 610.5L136.4 611.7L137.8 612.8L139.3 613.9L140.8 615L142.3 616.1L143.8 617.2L145.2 618.2L146.7 619.3L148.2 620.4L149.7 621.4L151.2 622.4L152.6 623.4L154.1 624.4L155.6 625.4L157.1 626.3L158.6 627.3L160 628.2L161.5 629.1L163 629.9L164.5 630.8L166 631.6L167.4 632.5L168.9 633.3L170.4 634.1L171.9 634.9L173.4 635.6L174.8 636.4L176.3 637.1L177.8 637.9L179.3 638.6L180.8 639.3L182.2 640L183.7 640.7L185.2 641.3L186.7 642L188.2 642.6L189.6 643.3L191.1 643.9L192.6 644.5L194.1 645.1L195.6 645.6L197 646.2L198.5 646.7L200 647.2L201.5 647.7L203 648.1L204.4 648.5L205.9 649L207.4 649.4L208.9 649.7L210.4 650.1L211.8 650.5L213.3 650.8L214.8 651.2L216.3 651.5L217.8 651.8L219.2 652.2L220.7 652.5L222.2 652.8L223.7 653.1L225.2 653.4L226.6 653.7L228.1 654L229.6 654.3L231.1 654.6L232.6 654.8L234 655.1L235.5 655.4L237 655.6L238.5 655.9L240 656.1L241.4 656.3L242.9 656.5L244.4 656.7L245.9 656.9L247.4 657.1L248.8 657.3L250.3 657.5L251.8 657.7L253.3 657.8L254.8 658L256.2 658.1L257.7 658.3L259.2 658.4L260.7 658.6L262.2 658.7L263.6 658.9L265.1 659L266.6 659.1L268.1 659.2L269.6 659.4L271 659.5L272.5 659.6L274 659.7L275.5 659.8L277 660L278.4 660.1L279.9 660.2L281.4 660.3L282.9 660.4L284.4 660.5L285.8 660.7L287.3 660.8L288.8 660.9L290.3 661L291.8 661.1L293.2 661.2L294.7 661.3L296.2 661.4L297.7 661.5L299.2 661.6L300.6 661.7L302.1 661.8L303.6 661.9L305.1 662L306.6 662.1L308 662.2L309.5 662.3L311 662.4L312.5 662.5L314 662.6L315.4 662.8L316.9 662.9L318.4 663L319.9 663.1L321.4 663.2L322.8 663.4L324.3 663.5L325.8 663.6L327.3 663.8L328.8 663.9L330.2 664L331.7 664.1L333.2 664.3L334.7 664.4L336.2 664.6L337.6 664.7L339.1 664.8L340.6 665L342.1 665.1L343.6 665.3L345 665.4L346.5 665.6L348 665.7" stroke="#0000ff"/>
<path d="M52 543.1L55 544.4L57.9 545.6L60.9 546.9L63.8 548.2L66.8 549.5L69.8 550.7L72.7 552L75.7 553.3L78.6 554.6L81.6 555.8L84.6 557.1L87.5 558.4L90.5 559.6L93.4 560.9L96.4 562.2L99.4 563.4L102.3 564.7L105.3 566L108.2 567.2L111.2 568.5L114.2 569.8L117.1 571L120.1 572.3L123 573.5L126 574.8L129 576L131.9 577.3L134.9 578.6L137.8 579.8L140.8 581L143.8 582.3L146.7 583.5L149.7 584.8L152.6 586L155.6 587.2L158.6 588.5L161.5 589.7L164.5 590.9L167.4 592.2L170.4 593.4L173.4 594.6L176.3 595.8L179.3 597L182.2 598.3L185.2 599.5L188.2 600.7L191.1 601.9L194.1 603.1L197 604.3L200 605.5L203 606.7L205.9 607.8L208.9 609L211.8 610.2L214.8 611.4L217.8 612.5L220.7 613.7L223.7 614.9L226.6 616L229.6 617.2L232.6 618.3L235.5 619.5L238.5 620.6L241.4 621.8L244.4 622.9L247.4 624L250.3 625.2L253.3 626.3L256.2 627.4L259.2 628.5L262.2 629.6L265.1 630.7L268.1 631.8L271 632.9L274 634L277 635L279.9 636.1L282.9 637.2L285.8 638.2L288.8 639.3L291.8 640.3L294.7 641.4L297.7 642.4L300.6 643.4L303.6 644.5L306.6 645.5L309.5 646.5L312.5 647.5L315.4 648.5L318.4 649.5L321.4 650.4L324.3 651.4L327.3 652.4L330.2 653.3L333.2 654.3L336.2 655.2L339.1 656.1L342.1 657L345 658L348 658.9" stroke="#0000ff" stroke-dasharray="5.8 5.4"/>
</g>
<path d="M52.6 541.56V686.03M347.55 541.56V686.03" stroke="#333333" stroke-width="1.1" fill="none"/>
<path d="M52.05 542.11H348.10" stroke="#333333" stroke-width="1.1" fill="none" stroke-opacity="0.66"/>
<path d="M52.05 685.48H348.10" stroke="#333333" stroke-width="1.1" fill="none" stroke-opacity="1"/>
<text transform="translate(326.6,563.71) scale(0.86,1)" font-size="21.7" font-weight="bold" fill="#000">D</text>
</g>
<g>
<path d="M377.90 64.66V208.05M407.50 64.66V208.05M437.10 64.66V208.05M466.70 64.66V208.05M496.30 64.66V208.05M525.90 64.66V208.05M555.50 64.66V208.05M585.10 64.66V208.05M614.70 64.66V208.05M644.30 64.66V208.05M363.67 192.83H658.62M363.67 164.60H658.62M363.67 136.37H658.62M363.67 108.14H658.62M363.67 79.91H658.62" stroke="#e9e9e9" stroke-width="0.85" fill="none"/>
<path d="M392.70 64.66V208.05M422.30 64.66V208.05M451.90 64.66V208.05M481.50 64.66V208.05M511.10 64.66V208.05M540.70 64.66V208.05M570.30 64.66V208.05M599.90 64.66V208.05M629.50 64.66V208.05M363.67 206.94H658.62M363.67 178.71H658.62M363.67 150.48H658.62M363.67 122.26H658.62M363.67 94.03H658.62M363.67 65.80H658.62" stroke="#e9e9e9" stroke-width="1.5" fill="none"/>
<clipPath id="cp10"><rect x="363.67" y="64.66" width="294.95" height="143.39"/></clipPath>
<g clip-path="url(#cp10)" fill="none" stroke-width="1.58" stroke-linejoin="round">
<path d="M363.1 65.8L363.4 69.7L363.7 73.8L364 78.2L364.3 82.8L364.6 87.6L364.9 92.6L365.2 98.4L365.5 105L365.8 111.7L366.1 118L366.4 123.2L366.7 126.7L366.9 129.6L367.2 132.2L367.5 134.5L367.8 136.5L368.1 138.3L368.4 139.9L368.7 141.4L369 142.7L369.3 143.8L369.6 144.9L369.9 146L370.2 147L370.5 148.1L370.8 149.2L371.1 150.3L371.4 151.5L371.7 152.7L372 153.8L372.3 154.9L372.6 155.9L372.9 156.9L373.2 157.8L373.5 158.6L373.8 159.2L374.1 159.8L374.3 160.3L374.6 160.8L374.9 161.2L375.2 161.7L375.5 162.1L375.8 162.4L376.1 162.8L376.4 163.1L376.7 163.5L377 163.8L377.3 164.2L377.6 164.5L377.9 164.9L378.2 165.3L378.5 165.7L378.8 166.1L379.1 166.5L379.4 166.9L379.7 167.3L380 167.6L380.3 168L380.6 168.4L380.9 168.8L381.6 169.7L382.3 170.7L383.1 171.6L383.8 172.5L384.6 173.3L385.3 174.2L386 175L386.8 175.8L387.5 176.6L388.3 177.3L389 178.1L389.7 178.8L390.5 179.4L391.2 180.1L392 180.7L392.7 181.3L393.4 181.9L394.2 182.4L394.9 182.9L395.7 183.4L396.4 183.9L397.1 184.4L397.9 184.8L398.6 185.3L399.4 185.7L400.1 186.1L400.8 186.6L401.6 187L402.3 187.4L403.1 187.9L403.8 188.3L404.5 188.7L405.3 189.1L406 189.4L406.8 189.8L407.5 190.1L409 190.7L410.5 191.3L411.9 191.8L413.4 192.2L414.9 192.5L416.4 192.9L417.9 193.2L419.3 193.4L420.8 193.6L422.3 193.8L423.8 194L425.3 194.1L426.7 194.1L428.2 194.1L429.7 194.1L431.2 194.1L432.7 194L434.1 193.9L435.6 193.8L437.1 193.7L438.6 193.5L440.1 193.4L441.5 193.2L443 193L444.5 192.9L446 192.8L447.5 192.7L448.9 192.6L450.4 192.6L451.9 192.7L453.4 192.8L454.9 193L456.3 193.3L457.8 193.7L459.3 194.3L460.8 194.9L462.3 195.6L463.7 196.4L465.2 197.3L466.7 198.1L468.2 198.9L469.7 199.8L471.1 200.5L472.6 201.3L474.1 202L475.6 202.6L477.1 203.2L478.5 203.7L480 204.1L481.5 204.5L483 204.9L484.5 205.1L485.9 205.4L487.4 205.6L488.9 205.8L490.4 205.9L491.9 206L493.3 206.1L494.8 206.2L496.3 206.2L497.8 206.3L499.3 206.3L500.7 206.4L502.2 206.4L503.7 206.4L505.2 206.4L506.7 206.5L508.1 206.5L509.6 206.5L511.1 206.5L512.6 206.5L514.1 206.6L515.5 206.6L517 206.6L518.5 206.7L520 206.7L521.5 206.7L522.9 206.7L524.4 206.8L525.9 206.8L527.4 206.8L528.9 206.8L530.3 206.9L531.8 206.9L533.3 206.9L534.8 206.9L536.3 206.9L537.7 206.9L539.2 206.9L540.7 206.9L542.2 206.9L543.7 206.9L545.1 206.9L546.6 206.9L548.1 206.9L549.6 206.9L551.1 206.9L552.5 206.9L554 206.9L555.5 206.9L557 206.9L558.5 206.9L559.9 206.9L561.4 206.9L562.9 206.9L564.4 206.9L565.9 206.9L567.3 206.9L568.8 206.9L570.3 206.9L571.8 206.9L573.3 206.9L574.7 206.9L576.2 206.9L577.7 206.9L579.2 206.9L580.7 206.9L582.1 206.9L583.6 206.9L585.1 206.9L586.6 206.9L588.1 206.9L589.5 206.9L591 206.9L592.5 206.9L594 206.9L595.5 206.9L596.9 206.9L598.4 206.9L599.9 206.9L601.4 206.9L602.9 206.9L604.3 206.9L605.8 206.9L607.3 206.9L608.8 206.9L610.3 206.9L611.7 206.9L613.2 206.9L614.7 206.9L616.2 206.9L617.7 206.9L619.1 206.9L620.6 206.9L622.1 206.9L623.6 206.9L625.1 206.9L626.5 206.9L628 206.9L629.5 206.9L631 206.9L632.5 206.9L633.9 206.9L635.4 206.9L636.9 206.9L638.4 206.9L639.9 206.9L641.3 206.9L642.8 206.9L644.3 206.9L645.8 206.9L647.3 206.9L648.7 206.9L650.2 206.9L651.7 206.9L653.2 206.9L654.7 206.9L656.1 206.9L657.6 206.9L659.1 206.9" stroke="#ff0000"/>
<path d="M363.1 65.8L366.1 68.1L369 70.4L372 72.7L374.9 75L377.9 77.3L380.9 79.6L383.8 81.9L386.8 84.2L389.7 86.5L392.7 88.8L395.7 91.1L398.6 93.3L401.6 95.6L404.5 97.9L407.5 100.1L410.5 102.4L413.4 104.7L416.4 106.9L419.3 109.1L422.3 111.4L425.3 113.6L428.2 115.8L431.2 118L434.1 120.2L437.1 122.4L440.1 124.6L443 126.7L446 128.9L448.9 131L451.9 133.2L454.9 135.3L457.8 137.4L460.8 139.5L463.7 141.6L466.7 143.6L469.7 145.7L472.6 147.7L475.6 149.8L478.5 151.8L481.5 153.7L484.5 155.7L487.4 157.7L490.4 159.6L493.3 161.5L496.3 163.4L499.3 165.3L502.2 167.1L505.2 168.9L508.1 170.7L511.1 172.5L514.1 174.3L517 176L520 177.7L522.9 179.4L525.9 181L528.9 182.7L531.8 184.3L534.8 185.8L537.7 187.3L540.7 188.8L543.7 190.3L546.6 191.7L549.6 193.1L552.5 194.4L555.5 195.7L558.5 197L561.4 198.2L564.4 199.3L567.3 200.4L570.3 201.5L573.3 202.4L576.2 203.4L579.2 204.2L582.1 205L585.1 205.7L588.1 206.2L591 206.7L594 206.9L596.9 206.9L599.9 206.9L602.9 206.9L605.8 206.9L608.8 206.9L611.7 206.9L614.7 206.9L617.7 206.9L620.6 206.9L623.6 206.9L626.5 206.9L629.5 206.9L632.5 206.9L635.4 206.9L638.4 206.9L641.3 206.9L644.3 206.9L647.3 206.9L650.2 206.9L653.2 206.9L656.1 206.9L659.1 206.9" stroke="#ff0000" stroke-dasharray="5.8 5.4"/>
<path d="M363.1 65.8L363.4 69.7L363.7 73.8L364 78.2L364.3 82.8L364.6 87.6L364.9 92.6L365.2 98.4L365.5 105L365.8 111.7L366.1 118L366.4 123.2L366.7 126.7L366.9 129.6L367.2 132.2L367.5 134.5L367.8 136.5L368.1 138.3L368.4 139.9L368.7 141.4L369 142.7L369.3 143.8L369.6 144.9L369.9 146L370.2 147L370.5 148.1L370.8 149.2L371.1 150.3L371.4 151.5L371.7 152.7L372 153.8L372.3 154.9L372.6 155.9L372.9 156.9L373.2 157.8L373.5 158.6L373.8 159.2L374.1 159.8L374.3 160.3L374.6 160.8L374.9 161.2L375.2 161.7L375.5 162.1L375.8 162.4L376.1 162.8L376.4 163.1L376.7 163.5L377 163.8L377.3 164.2L377.6 164.5L377.9 164.9L378.2 165.3L378.5 165.7L378.8 166.1L379.1 166.5L379.4 166.9L379.7 167.3L380 167.6L380.3 168L380.6 168.4L380.9 168.8L381.6 169.7L382.3 170.7L383.1 171.6L383.8 172.5L384.6 173.3L385.3 174.2L386 175L386.8 175.8L387.5 176.6L388.3 177.3L389 178L389.7 178.7L390.5 179.4L391.2 180.1L392 180.7L392.7 181.3L393.4 181.9L394.2 182.4L394.9 183L395.7 183.5L396.4 184L397.1 184.4L397.9 184.9L398.6 185.3L399.4 185.7L400.1 186.1L400.8 186.5L401.6 186.9L402.3 187.3L403.1 187.6L403.8 187.9L404.5 188.3L405.3 188.6L406 188.9L406.8 189.1L407.5 189.4L409 189.9L410.5 190.4L411.9 190.8L413.4 191.2L414.9 191.6L416.4 191.9L417.9 192.1L419.3 192.3L420.8 192.5L422.3 192.7L423.8 192.8L425.3 192.9L426.7 193L428.2 193L429.7 193L431.2 193L432.7 192.9L434.1 192.9L435.6 192.8L437.1 192.7L438.6 192.6L440.1 192.4L441.5 192.3L443 192.2L444.5 192.1L446 192L447.5 192L448.9 192L450.4 192.1L451.9 192.3L453.4 192.5L454.9 192.8L456.3 193.2L457.8 193.7L459.3 194.3L460.8 194.9L462.3 195.7L463.7 196.4L465.2 197.3L466.7 198.1L468.2 198.9L469.7 199.7L471.1 200.5L472.6 201.3L474.1 202L475.6 202.6L477.1 203.2L478.5 203.7L480 204.1L481.5 204.5L483 204.9L484.5 205.1L485.9 205.4L487.4 205.6L488.9 205.8L490.4 205.9L491.9 206L493.3 206.1L494.8 206.2L496.3 206.2L497.8 206.3L499.3 206.3L500.7 206.4L502.2 206.4L503.7 206.4L505.2 206.4L506.7 206.5L508.1 206.5L509.6 206.5L511.1 206.5L512.6 206.5L514.1 206.6L515.5 206.6L517 206.6L518.5 206.7L520 206.7L521.5 206.7L522.9 206.7L524.4 206.8L525.9 206.8L527.4 206.8L528.9 206.8L530.3 206.9L531.8 206.9L533.3 206.9L534.8 206.9L536.3 206.9L537.7 206.9L539.2 206.9L540.7 206.9L542.2 206.9L543.7 206.9L545.1 206.9L546.6 206.9L548.1 206.9L549.6 206.9L551.1 206.9L552.5 206.9L554 206.9L555.5 206.9L557 206.9L558.5 206.9L559.9 206.9L561.4 206.9L562.9 206.9L564.4 206.9L565.9 206.9L567.3 206.9L568.8 206.9L570.3 206.9L571.8 206.9L573.3 206.9L574.7 206.9L576.2 206.9L577.7 206.9L579.2 206.9L580.7 206.9L582.1 206.9L583.6 206.9L585.1 206.9L586.6 206.9L588.1 206.9L589.5 206.9L591 206.9L592.5 206.9L594 206.9L595.5 206.9L596.9 206.9L598.4 206.9L599.9 206.9L601.4 206.9L602.9 206.9L604.3 206.9L605.8 206.9L607.3 206.9L608.8 206.9L610.3 206.9L611.7 206.9L613.2 206.9L614.7 206.9L616.2 206.9L617.7 206.9L619.1 206.9L620.6 206.9L622.1 206.9L623.6 206.9L625.1 206.9L626.5 206.9L628 206.9L629.5 206.9L631 206.9L632.5 206.9L633.9 206.9L635.4 206.9L636.9 206.9L638.4 206.9L639.9 206.9L641.3 206.9L642.8 206.9L644.3 206.9L645.8 206.9L647.3 206.9L648.7 206.9L650.2 206.9L651.7 206.9L653.2 206.9L654.7 206.9L656.1 206.9L657.6 206.9L659.1 206.9" stroke="#0000ff"/>
<path d="M363.1 65.8L366.1 68.1L369 70.4L372 72.7L374.9 75L377.9 77.3L380.9 79.6L383.8 81.9L386.8 84.2L389.7 86.5L392.7 88.8L395.7 91.1L398.6 93.3L401.6 95.6L404.5 97.9L407.5 100.1L410.5 102.4L413.4 104.7L416.4 106.9L419.3 109.1L422.3 111.4L425.3 113.6L428.2 115.8L431.2 118L434.1 120.2L437.1 122.4L440.1 124.6L443 126.7L446 128.9L448.9 131L451.9 133.2L454.9 135.3L457.8 137.4L460.8 139.5L463.7 141.6L466.7 143.6L469.7 145.7L472.6 147.7L475.6 149.8L478.5 151.8L481.5 153.7L484.5 155.7L487.4 157.7L490.4 159.6L493.3 161.5L496.3 163.4L499.3 165.3L502.2 167.1L505.2 168.9L508.1 170.7L511.1 172.5L514.1 174.3L517 176L520 177.7L522.9 179.4L525.9 181L528.9 182.7L531.8 184.3L534.8 185.8L537.7 187.3L540.7 188.8L543.7 190.3L546.6 191.7L549.6 193.1L552.5 194.4L555.5 195.7L558.5 197L561.4 198.2L564.4 199.3L567.3 200.4L570.3 201.5L573.3 202.4L576.2 203.4L579.2 204.2L582.1 205L585.1 205.7L588.1 206.2L591 206.7L594 206.9L596.9 206.9L599.9 206.9L602.9 206.9L605.8 206.9L608.8 206.9L611.7 206.9L614.7 206.9L617.7 206.9L620.6 206.9L623.6 206.9L626.5 206.9L629.5 206.9L632.5 206.9L635.4 206.9L638.4 206.9L641.3 206.9L644.3 206.9L647.3 206.9L650.2 206.9L653.2 206.9L656.1 206.9L659.1 206.9" stroke="#0000ff" stroke-dasharray="5.8 5.4"/>
</g>
<path d="M363.67 64.11V208.55M658.62 64.11V208.55" stroke="#333333" stroke-width="1.1" fill="none"/>
<path d="M363.12 64.66H659.17" stroke="#333333" stroke-width="1.1" fill="none" stroke-opacity="1"/>
<path d="M363.12 208.00H659.17" stroke="#333333" stroke-width="1.1" fill="none" stroke-opacity="0.66"/>
<text transform="translate(636.7,86.41) scale(0.86,1)" font-size="21.7" font-weight="bold" fill="#000">E</text>
</g>
<g>
<path d="M377.90 223.76V367.15M407.50 223.76V367.15M437.10 223.76V367.15M466.70 223.76V367.15M496.30 223.76V367.15M525.90 223.76V367.15M555.50 223.76V367.15M585.10 223.76V367.15M614.70 223.76V367.15M644.30 223.76V367.15M363.67 351.93H658.62M363.67 323.70H658.62M363.67 295.47H658.62M363.67 267.24H658.62M363.67 239.01H658.62" stroke="#e9e9e9" stroke-width="0.85" fill="none"/>
<path d="M392.70 223.76V367.15M422.30 223.76V367.15M451.90 223.76V367.15M481.50 223.76V367.15M511.10 223.76V367.15M540.70 223.76V367.15M570.30 223.76V367.15M599.90 223.76V367.15M629.50 223.76V367.15M363.67 366.04H658.62M363.67 337.81H658.62M363.67 309.58H658.62M363.67 281.36H658.62M363.67 253.13H658.62M363.67 224.90H658.62" stroke="#e9e9e9" stroke-width="1.5" fill="none"/>
<clipPath id="cp11"><rect x="363.67" y="223.76" width="294.95" height="143.39"/></clipPath>
<g clip-path="url(#cp11)" fill="none" stroke-width="1.58" stroke-linejoin="round">
<path d="M363.1 224.9L363.4 227.3L363.7 229.6L364 232L364.3 234.4L364.6 236.8L364.9 239.2L365.2 241.6L365.5 244L365.8 246.4L366.1 248.8L366.4 251.3L366.7 253.7L366.9 256.3L367.2 258.9L367.5 261.5L367.8 264.2L368.1 266.8L368.4 269.4L368.7 271.8L369 274.1L369.3 276.1L369.6 278L369.9 279.7L370.2 281.4L370.5 283L370.8 284.5L371.1 285.9L371.4 287.2L371.7 288.3L372 289.3L372.3 290.1L372.6 291L372.9 291.7L373.2 292.4L373.5 293.1L373.8 293.8L374.1 294.4L374.3 295.1L374.6 295.8L374.9 296.4L375.2 297.1L375.5 297.8L375.8 298.5L376.1 299.2L376.4 299.9L376.7 300.6L377 301.2L377.3 301.9L377.6 302.5L377.9 303.2L378.2 303.8L378.5 304.4L378.8 305L379.1 305.5L379.4 306.1L379.7 306.6L380 307.1L380.3 307.6L380.6 308.1L380.9 308.6L381.6 309.8L382.3 310.9L383.1 311.9L383.8 312.9L384.6 313.9L385.3 314.8L386 315.7L386.8 316.6L387.5 317.5L388.3 318.3L389 319.1L389.7 319.8L390.5 320.6L391.2 321.2L392 321.9L392.7 322.5L393.4 323L394.2 323.6L394.9 324.1L395.7 324.6L396.4 325.1L397.1 325.6L397.9 326L398.6 326.5L399.4 326.9L400.1 327.4L400.8 327.9L401.6 328.3L402.3 328.8L403.1 329.2L403.8 329.6L404.5 330.1L405.3 330.5L406 330.9L406.8 331.3L407.5 331.8L409 332.5L410.5 333.3L411.9 334L413.4 334.7L414.9 335.3L416.4 336L417.9 336.6L419.3 337.1L420.8 337.7L422.3 338.2L423.8 338.8L425.3 339.3L426.7 339.8L428.2 340.3L429.7 340.8L431.2 341.3L432.7 341.8L434.1 342.3L435.6 342.8L437.1 343.2L438.6 343.7L440.1 344.2L441.5 344.6L443 345.1L444.5 345.6L446 346.1L447.5 346.5L448.9 347L450.4 347.6L451.9 348.1L453.4 348.6L454.9 349.2L456.3 349.7L457.8 350.3L459.3 350.9L460.8 351.5L462.3 352.1L463.7 352.8L465.2 353.4L466.7 354.1L468.2 354.7L469.7 355.4L471.1 356.1L472.6 356.8L474.1 357.5L475.6 358.2L477.1 358.8L478.5 359.4L480 360.1L481.5 360.6L483 361.2L484.5 361.6L485.9 362.1L487.4 362.5L488.9 362.9L490.4 363.3L491.9 363.6L493.3 363.9L494.8 364.2L496.3 364.5L497.8 364.7L499.3 364.9L500.7 365.1L502.2 365.3L503.7 365.4L505.2 365.5L506.7 365.7L508.1 365.8L509.6 365.8L511.1 365.9L512.6 365.9L514.1 366L515.5 366L517 366L518.5 366L520 366L521.5 366L522.9 366L524.4 366L525.9 366L527.4 366L528.9 366L530.3 366L531.8 366L533.3 366L534.8 366L536.3 366L537.7 366L539.2 366L540.7 366L542.2 366L543.7 366L545.1 366L546.6 366L548.1 366L549.6 366L551.1 366L552.5 366L554 366L555.5 366L557 366L558.5 366L559.9 366L561.4 366L562.9 366L564.4 366L565.9 366L567.3 366L568.8 366L570.3 366L571.8 366L573.3 366L574.7 366L576.2 366L577.7 366L579.2 366L580.7 366L582.1 366L583.6 366L585.1 366L586.6 366L588.1 366L589.5 366L591 366L592.5 366L594 366L595.5 366L596.9 366L598.4 366L599.9 366L601.4 366L602.9 366L604.3 366L605.8 366L607.3 366L608.8 366L610.3 366L611.7 366L613.2 366L614.7 366L616.2 366L617.7 366L619.1 366L620.6 366L622.1 366L623.6 366L625.1 366L626.5 366L628 366L629.5 366L631 366L632.5 366L633.9 366L635.4 366L636.9 366L638.4 366L639.9 366L641.3 366L642.8 366L644.3 366L645.8 366L647.3 366L648.7 366L650.2 366L651.7 366L653.2 366L654.7 366L656.1 366L657.6 366L659.1 366" stroke="#ff0000"/>
<path d="M363.1 224.9L366.1 227.4L369 229.9L372 232.4L374.9 234.9L377.9 237.5L380.9 240L383.8 242.5L386.8 245L389.7 247.5L392.7 250L395.7 252.4L398.6 254.9L401.6 257.4L404.5 259.9L407.5 262.3L410.5 264.8L413.4 267.2L416.4 269.7L419.3 272.1L422.3 274.5L425.3 276.9L428.2 279.3L431.2 281.7L434.1 284.1L437.1 286.4L440.1 288.8L443 291.1L446 293.4L448.9 295.7L451.9 298L454.9 300.3L457.8 302.6L460.8 304.8L463.7 307L466.7 309.2L469.7 311.4L472.6 313.6L475.6 315.7L478.5 317.8L481.5 319.9L484.5 322L487.4 324L490.4 326.1L493.3 328L496.3 330L499.3 332L502.2 333.9L505.2 335.7L508.1 337.6L511.1 339.4L514.1 341.2L517 342.9L520 344.6L522.9 346.3L525.9 347.9L528.9 349.5L531.8 351L534.8 352.5L537.7 354L540.7 355.4L543.7 356.7L546.6 358L549.6 359.2L552.5 360.4L555.5 361.5L558.5 362.5L561.4 363.4L564.4 364.2L567.3 364.9L570.3 365.5L573.3 365.9L576.2 366L579.2 366L582.1 366L585.1 366L588.1 366L591 366L594 366L596.9 366L599.9 366L602.9 366L605.8 366L608.8 366L611.7 366L614.7 366L617.7 366L620.6 366L623.6 366L626.5 366L629.5 366L632.5 366L635.4 366L638.4 366L641.3 366L644.3 366L647.3 366L650.2 366L653.2 366L656.1 366L659.1 366" stroke="#ff0000" stroke-dasharray="5.8 5.4"/>
<path d="M363.1 224.9L363.4 227.9L363.7 231L364 234.1L364.3 237.2L364.6 240.3L364.9 243.5L365.2 246.7L365.5 250L365.8 253.3L366.1 256.8L366.4 260.5L366.7 264.3L366.9 268L367.2 271.5L367.5 274.6L367.8 277.2L368.1 279.3L368.4 281.3L368.7 283.1L369 284.7L369.3 286.2L369.6 287.7L369.9 289L370.2 290.3L370.5 291.6L370.8 292.8L371.1 293.9L371.4 294.9L371.7 295.7L372 296.4L372.3 297L372.6 297.6L372.9 298.1L373.2 298.6L373.5 299L373.8 299.5L374.1 299.9L374.3 300.3L374.6 300.7L374.9 301.1L375.2 301.5L375.5 301.9L375.8 302.4L376.1 302.9L376.4 303.4L376.7 303.9L377 304.5L377.3 305.1L377.6 305.7L377.9 306.3L378.2 306.9L378.5 307.6L378.8 308.2L379.1 308.8L379.4 309.4L379.7 310L380 310.5L380.3 311.1L380.6 311.6L380.9 312.2L381.6 313.4L382.3 314.7L383.1 315.9L383.8 316.9L384.6 318L385.3 318.9L386 319.8L386.8 320.7L387.5 321.5L388.3 322.3L389 323L389.7 323.6L390.5 324.3L391.2 324.9L392 325.5L392.7 326.1L393.4 326.6L394.2 327.1L394.9 327.7L395.7 328.2L396.4 328.7L397.1 329.1L397.9 329.6L398.6 330.1L399.4 330.6L400.1 331L400.8 331.5L401.6 332L402.3 332.5L403.1 332.9L403.8 333.4L404.5 333.9L405.3 334.4L406 334.9L406.8 335.4L407.5 335.9L409 336.8L410.5 337.8L411.9 338.7L413.4 339.6L414.9 340.5L416.4 341.4L417.9 342.2L419.3 342.9L420.8 343.6L422.3 344.2L423.8 344.8L425.3 345.3L426.7 345.7L428.2 346.1L429.7 346.5L431.2 346.8L432.7 347.1L434.1 347.4L435.6 347.7L437.1 348.1L438.6 348.4L440.1 348.8L441.5 349.2L443 349.6L444.5 350L446 350.4L447.5 350.9L448.9 351.4L450.4 351.9L451.9 352.5L453.4 353.1L454.9 353.7L456.3 354.3L457.8 354.9L459.3 355.5L460.8 356.1L462.3 356.8L463.7 357.4L465.2 358L466.7 358.6L468.2 359.2L469.7 359.8L471.1 360.3L472.6 360.9L474.1 361.4L475.6 361.8L477.1 362.3L478.5 362.7L480 363.1L481.5 363.5L483 363.8L484.5 364.1L485.9 364.4L487.4 364.6L488.9 364.8L490.4 365L491.9 365.2L493.3 365.4L494.8 365.5L496.3 365.6L497.8 365.7L499.3 365.8L500.7 365.8L502.2 365.9L503.7 365.9L505.2 366L506.7 366L508.1 366L509.6 366L511.1 366L512.6 366L514.1 366L515.5 366L517 366L518.5 366L520 366L521.5 366L522.9 366L524.4 366L525.9 366L527.4 366L528.9 366L530.3 366L531.8 366L533.3 366L534.8 366L536.3 366L537.7 366L539.2 366L540.7 366L542.2 366L543.7 366L545.1 366L546.6 366L548.1 366L549.6 366L551.1 366L552.5 366L554 366L555.5 366L557 366L558.5 366L559.9 366L561.4 366L562.9 366L564.4 366L565.9 366L567.3 366L568.8 366L570.3 366L571.8 366L573.3 366L574.7 366L576.2 366L577.7 366L579.2 366L580.7 366L582.1 366L583.6 366L585.1 366L586.6 366L588.1 366L589.5 366L591 366L592.5 366L594 366L595.5 366L596.9 366L598.4 366L599.9 366L601.4 366L602.9 366L604.3 366L605.8 366L607.3 366L608.8 366L610.3 366L611.7 366L613.2 366L614.7 366L616.2 366L617.7 366L619.1 366L620.6 366L622.1 366L623.6 366L625.1 366L626.5 366L628 366L629.5 366L631 366L632.5 366L633.9 366L635.4 366L636.9 366L638.4 366L639.9 366L641.3 366L642.8 366L644.3 366L645.8 366L647.3 366L648.7 366L650.2 366L651.7 366L653.2 366L654.7 366L656.1 366L657.6 366L659.1 366" stroke="#0000ff"/>
<path d="M363.1 224.9L366.1 227.3L369 229.8L372 232.2L374.9 234.7L377.9 237.1L380.9 239.6L383.8 242L386.8 244.4L389.7 246.8L392.7 249.3L395.7 251.7L398.6 254.1L401.6 256.5L404.5 258.9L407.5 261.3L410.5 263.7L413.4 266.1L416.4 268.5L419.3 270.8L422.3 273.2L425.3 275.5L428.2 277.9L431.2 280.2L434.1 282.5L437.1 284.8L440.1 287.1L443 289.4L446 291.7L448.9 293.9L451.9 296.2L454.9 298.4L457.8 300.6L460.8 302.8L463.7 305L466.7 307.1L469.7 309.3L472.6 311.4L475.6 313.5L478.5 315.6L481.5 317.6L484.5 319.7L487.4 321.7L490.4 323.7L493.3 325.7L496.3 327.6L499.3 329.5L502.2 331.4L505.2 333.3L508.1 335.1L511.1 336.9L514.1 338.7L517 340.4L520 342.2L522.9 343.8L525.9 345.5L528.9 347.1L531.8 348.6L534.8 350.2L537.7 351.6L540.7 353.1L543.7 354.5L546.6 355.8L549.6 357.1L552.5 358.3L555.5 359.5L558.5 360.6L561.4 361.6L564.4 362.6L567.3 363.5L570.3 364.3L573.3 365L576.2 365.5L579.2 365.9L582.1 366L585.1 366L588.1 366L591 366L594 366L596.9 366L599.9 366L602.9 366L605.8 366L608.8 366L611.7 366L614.7 366L617.7 366L620.6 366L623.6 366L626.5 366L629.5 366L632.5 366L635.4 366L638.4 366L641.3 366L644.3 366L647.3 366L650.2 366L653.2 366L656.1 366L659.1 366" stroke="#0000ff" stroke-dasharray="5.8 5.4"/>
</g>
<path d="M363.67 223.36V367.65M658.62 223.36V367.65" stroke="#333333" stroke-width="1.1" fill="none"/>
<path d="M363.12 223.91H659.17" stroke="#333333" stroke-width="1.1" fill="none" stroke-opacity="0.66"/>
<path d="M363.12 367.10H659.17" stroke="#333333" stroke-width="1.1" fill="none" stroke-opacity="0.66"/>
<text transform="translate(636.7,245.51) scale(0.86,1)" font-size="21.7" font-weight="bold" fill="#000">F</text>
</g>
<g>
<path d="M377.90 382.86V526.25M407.50 382.86V526.25M437.10 382.86V526.25M466.70 382.86V526.25M496.30 382.86V526.25M525.90 382.86V526.25M555.50 382.86V526.25M585.10 382.86V526.25M614.70 382.86V526.25M644.30 382.86V526.25M363.67 511.03H658.62M363.67 482.80H658.62M363.67 454.57H658.62M363.67 426.34H658.62M363.67 398.11H658.62" stroke="#e9e9e9" stroke-width="0.85" fill="none"/>
<path d="M392.70 382.86V526.25M422.30 382.86V526.25M451.90 382.86V526.25M481.50 382.86V526.25M511.10 382.86V526.25M540.70 382.86V526.25M570.30 382.86V526.25M599.90 382.86V526.25M629.50 382.86V526.25M363.67 525.14H658.62M363.67 496.91H658.62M363.67 468.68H658.62M363.67 440.46H658.62M363.67 412.23H658.62M363.67 384.00H658.62" stroke="#e9e9e9" stroke-width="1.5" fill="none"/>
<clipPath id="cp12"><rect x="363.67" y="382.86" width="294.95" height="143.39"/></clipPath>
<g clip-path="url(#cp12)" fill="none" stroke-width="1.58" stroke-linejoin="round">
<path d="M363.1 384L363.4 386.2L363.7 388.5L364 390.8L364.3 393.2L364.6 395.6L364.9 398.1L365.2 400.6L365.5 403.2L365.8 405.8L366.1 408.4L366.4 411.1L366.7 413.8L366.9 416.7L367.2 419.7L367.5 422.8L367.8 425.9L368.1 429L368.4 432L368.7 434.9L369 437.6L369.3 440.3L369.6 443L369.9 445.7L370.2 448.3L370.5 450.8L370.8 453L371.1 454.9L371.4 456.5L371.7 457.8L372 459L372.3 460L372.6 461L372.9 462L373.2 462.8L373.5 463.6L373.8 464.4L374.1 465.1L374.3 465.7L374.6 466.4L374.9 467L375.2 467.5L375.5 468.1L375.8 468.6L376.1 469.1L376.4 469.5L376.7 470L377 470.4L377.3 470.8L377.6 471.2L377.9 471.7L378.2 472L378.5 472.4L378.8 472.9L379.1 473.3L379.4 473.7L379.7 474.2L380 474.6L380.3 475.1L380.6 475.6L380.9 476.1L381.6 477.3L382.3 478.5L383.1 479.6L383.8 480.7L384.6 481.7L385.3 482.7L386 483.5L386.8 484.2L387.5 484.9L388.3 485.5L389 485.9L389.7 486.4L390.5 486.7L391.2 487.1L392 487.4L392.7 487.6L393.4 487.9L394.2 488.2L394.9 488.4L395.7 488.7L396.4 488.9L397.1 489.2L397.9 489.4L398.6 489.7L399.4 489.9L400.1 490.2L400.8 490.5L401.6 490.8L402.3 491.1L403.1 491.4L403.8 491.8L404.5 492.1L405.3 492.5L406 492.8L406.8 493.1L407.5 493.5L409 494.1L410.5 494.6L411.9 494.9L413.4 495.1L414.9 495.2L416.4 495.3L417.9 495.6L419.3 496.1L420.8 497.1L422.3 498.2L423.8 499.1L425.3 499.8L426.7 500.4L428.2 500.7L429.7 500.9L431.2 501L432.7 501L434.1 501L435.6 501L437.1 501L438.6 501.1L440.1 501.3L441.5 501.5L443 501.7L444.5 502L446 502.3L447.5 502.6L448.9 502.9L450.4 503.2L451.9 503.5L453.4 503.8L454.9 504L456.3 504.2L457.8 504.5L459.3 504.7L460.8 504.9L462.3 505.1L463.7 505.3L465.2 505.4L466.7 505.6L468.2 505.8L469.7 505.9L471.1 506.1L472.6 506.3L474.1 506.4L475.6 506.6L477.1 506.7L478.5 506.9L480 507L481.5 507.2L483 507.3L484.5 507.4L485.9 507.6L487.4 507.7L488.9 507.8L490.4 508L491.9 508.1L493.3 508.2L494.8 508.3L496.3 508.5L497.8 508.6L499.3 508.7L500.7 508.8L502.2 508.9L503.7 509.1L505.2 509.2L506.7 509.3L508.1 509.4L509.6 509.5L511.1 509.6L512.6 509.7L514.1 509.8L515.5 509.9L517 509.9L518.5 510L520 510.1L521.5 510.2L522.9 510.3L524.4 510.4L525.9 510.4L527.4 510.5L528.9 510.6L530.3 510.7L531.8 510.8L533.3 511L534.8 511.1L536.3 511.2L537.7 511.3L539.2 511.5L540.7 511.6L542.2 511.7L543.7 511.9L545.1 512L546.6 512.2L548.1 512.3L549.6 512.5L551.1 512.7L552.5 512.8L554 513L555.5 513.2L557 513.3L558.5 513.5L559.9 513.7L561.4 513.8L562.9 514L564.4 514.2L565.9 514.4L567.3 514.6L568.8 514.8L570.3 515L571.8 515.2L573.3 515.5L574.7 515.7L576.2 515.9L577.7 516.2L579.2 516.4L580.7 516.7L582.1 516.9L583.6 517.2L585.1 517.4L586.6 517.7L588.1 517.9L589.5 518.2L591 518.4L592.5 518.7L594 518.9L595.5 519.1L596.9 519.4L598.4 519.6L599.9 519.9L601.4 520.1L602.9 520.3L604.3 520.6L605.8 520.8L607.3 521.1L608.8 521.3L610.3 521.5L611.7 521.7L613.2 521.9L614.7 522.1L616.2 522.3L617.7 522.5L619.1 522.6L620.6 522.8L622.1 522.9L623.6 523.1L625.1 523.2L626.5 523.3L628 523.4L629.5 523.6L631 523.7L632.5 523.8L633.9 523.9L635.4 524L636.9 524.1L638.4 524.2L639.9 524.2L641.3 524.3L642.8 524.4L644.3 524.5L645.8 524.6L647.3 524.6L648.7 524.7L650.2 524.8L651.7 524.8L653.2 524.9L654.7 525L656.1 525L657.6 525.1L659.1 525.1" stroke="#ff0000"/>
<path d="M363.1 384L366.1 384.9L369 385.8L372 386.7L374.9 387.6L377.9 388.5L380.9 389.4L383.8 390.3L386.8 391.2L389.7 392.1L392.7 393L395.7 393.9L398.6 394.8L401.6 395.7L404.5 396.6L407.5 397.5L410.5 398.4L413.4 399.3L416.4 400.2L419.3 401.1L422.3 402L425.3 402.9L428.2 403.8L431.2 404.7L434.1 405.6L437.1 406.5L440.1 407.4L443 408.3L446 409.2L448.9 410.1L451.9 411L454.9 411.9L457.8 412.8L460.8 413.7L463.7 414.6L466.7 415.4L469.7 416.3L472.6 417.2L475.6 418.1L478.5 419L481.5 419.9L484.5 420.8L487.4 421.6L490.4 422.5L493.3 423.4L496.3 424.3L499.3 425.2L502.2 426L505.2 426.9L508.1 427.8L511.1 428.7L514.1 429.5L517 430.4L520 431.3L522.9 432.2L525.9 433L528.9 433.9L531.8 434.8L534.8 435.6L537.7 436.5L540.7 437.3L543.7 438.2L546.6 439.1L549.6 439.9L552.5 440.8L555.5 441.6L558.5 442.5L561.4 443.3L564.4 444.2L567.3 445L570.3 445.9L573.3 446.7L576.2 447.6L579.2 448.4L582.1 449.3L585.1 450.1L588.1 450.9L591 451.8L594 452.6L596.9 453.4L599.9 454.2L602.9 455.1L605.8 455.9L608.8 456.7L611.7 457.5L614.7 458.4L617.7 459.2L620.6 460L623.6 460.8L626.5 461.6L629.5 462.4L632.5 463.2L635.4 464L638.4 464.8L641.3 465.6L644.3 466.4L647.3 467.2L650.2 468L653.2 468.8L656.1 469.6L659.1 470.3" stroke="#ff0000" stroke-dasharray="5.8 5.4"/>
<path d="M363.1 384L363.4 386.2L363.7 388.5L364 390.8L364.3 393.2L364.6 395.6L364.9 398.1L365.2 400.6L365.5 403.2L365.8 405.8L366.1 408.4L366.4 411.1L366.7 413.8L366.9 416.7L367.2 419.7L367.5 422.8L367.8 425.9L368.1 429L368.4 432L368.7 434.9L369 437.6L369.3 440.3L369.6 443L369.9 445.7L370.2 448.3L370.5 450.8L370.8 453L371.1 454.9L371.4 456.5L371.7 457.8L372 458.9L372.3 460L372.6 461L372.9 461.9L373.2 462.8L373.5 463.6L373.8 464.3L374.1 465L374.3 465.7L374.6 466.4L374.9 467L375.2 467.6L375.5 468.2L375.8 468.7L376.1 469.3L376.4 469.8L376.7 470.3L377 470.7L377.3 471.2L377.6 471.6L377.9 472.1L378.2 472.5L378.5 473L378.8 473.4L379.1 473.8L379.4 474.3L379.7 474.7L380 475.2L380.3 475.7L380.6 476.1L380.9 476.6L381.6 477.7L382.3 478.9L383.1 479.9L383.8 480.9L384.6 481.9L385.3 482.7L386 483.5L386.8 484.2L387.5 484.8L388.3 485.3L389 485.8L389.7 486.2L390.5 486.6L391.2 487L392 487.3L392.7 487.6L393.4 488L394.2 488.3L394.9 488.6L395.7 488.9L396.4 489.3L397.1 489.6L397.9 489.9L398.6 490.2L399.4 490.5L400.1 490.8L400.8 491.1L401.6 491.4L402.3 491.7L403.1 491.9L403.8 492.2L404.5 492.5L405.3 492.8L406 493L406.8 493.3L407.5 493.5L409 494L410.5 494.5L411.9 494.9L413.4 495.3L414.9 495.7L416.4 496.1L417.9 496.5L419.3 496.9L420.8 497.3L422.3 497.8L423.8 498.2L425.3 498.6L426.7 498.9L428.2 499.2L429.7 499.5L431.2 499.7L432.7 500L434.1 500.2L435.6 500.4L437.1 500.6L438.6 500.9L440.1 501.1L441.5 501.3L443 501.6L444.5 501.8L446 502.1L447.5 502.3L448.9 502.6L450.4 502.8L451.9 503L453.4 503.3L454.9 503.5L456.3 503.7L457.8 504L459.3 504.2L460.8 504.4L462.3 504.6L463.7 504.8L465.2 505L466.7 505.2L468.2 505.4L469.7 505.5L471.1 505.7L472.6 505.9L474.1 506L475.6 506.2L477.1 506.3L478.5 506.5L480 506.6L481.5 506.7L483 506.9L484.5 507L485.9 507.1L487.4 507.3L488.9 507.4L490.4 507.5L491.9 507.7L493.3 507.8L494.8 507.9L496.3 508L497.8 508.2L499.3 508.3L500.7 508.4L502.2 508.5L503.7 508.6L505.2 508.8L506.7 508.9L508.1 509L509.6 509.1L511.1 509.2L512.6 509.3L514.1 509.4L515.5 509.4L517 509.5L518.5 509.6L520 509.7L521.5 509.8L522.9 509.9L524.4 509.9L525.9 510L527.4 510.1L528.9 510.2L530.3 510.3L531.8 510.4L533.3 510.5L534.8 510.7L536.3 510.8L537.7 510.9L539.2 511L540.7 511.2L542.2 511.3L543.7 511.5L545.1 511.6L546.6 511.8L548.1 511.9L549.6 512.1L551.1 512.2L552.5 512.4L554 512.6L555.5 512.7L557 512.9L558.5 513.1L559.9 513.2L561.4 513.4L562.9 513.6L564.4 513.8L565.9 514L567.3 514.2L568.8 514.4L570.3 514.6L571.8 514.8L573.3 515L574.7 515.3L576.2 515.5L577.7 515.8L579.2 516L580.7 516.3L582.1 516.5L583.6 516.8L585.1 517L586.6 517.3L588.1 517.5L589.5 517.7L591 518L592.5 518.2L594 518.5L595.5 518.7L596.9 519L598.4 519.2L599.9 519.4L601.4 519.7L602.9 519.9L604.3 520.2L605.8 520.4L607.3 520.6L608.8 520.9L610.3 521.1L611.7 521.3L613.2 521.5L614.7 521.7L616.2 521.9L617.7 522.1L619.1 522.2L620.6 522.4L622.1 522.5L623.6 522.7L625.1 522.8L626.5 522.9L628 523L629.5 523.1L631 523.2L632.5 523.4L633.9 523.5L635.4 523.6L636.9 523.6L638.4 523.7L639.9 523.8L641.3 523.9L642.8 524L644.3 524.1L645.8 524.1L647.3 524.2L648.7 524.3L650.2 524.3L651.7 524.4L653.2 524.5L654.7 524.5L656.1 524.6L657.6 524.6L659.1 524.7" stroke="#0000ff"/>
<path d="M363.1 384L366.1 384.9L369 385.8L372 386.7L374.9 387.6L377.9 388.5L380.9 389.4L383.8 390.3L386.8 391.2L389.7 392.1L392.7 393L395.7 393.9L398.6 394.8L401.6 395.7L404.5 396.6L407.5 397.5L410.5 398.4L413.4 399.3L416.4 400.2L419.3 401.1L422.3 402L425.3 402.9L428.2 403.8L431.2 404.7L434.1 405.6L437.1 406.5L440.1 407.4L443 408.3L446 409.2L448.9 410.1L451.9 411L454.9 411.9L457.8 412.8L460.8 413.7L463.7 414.6L466.7 415.4L469.7 416.3L472.6 417.2L475.6 418.1L478.5 419L481.5 419.9L484.5 420.8L487.4 421.6L490.4 422.5L493.3 423.4L496.3 424.3L499.3 425.2L502.2 426L505.2 426.9L508.1 427.8L511.1 428.7L514.1 429.5L517 430.4L520 431.3L522.9 432.2L525.9 433L528.9 433.9L531.8 434.8L534.8 435.6L537.7 436.5L540.7 437.3L543.7 438.2L546.6 439.1L549.6 439.9L552.5 440.8L555.5 441.6L558.5 442.5L561.4 443.3L564.4 444.2L567.3 445L570.3 445.9L573.3 446.7L576.2 447.6L579.2 448.4L582.1 449.3L585.1 450.1L588.1 450.9L591 451.8L594 452.6L596.9 453.4L599.9 454.2L602.9 455.1L605.8 455.9L608.8 456.7L611.7 457.5L614.7 458.4L617.7 459.2L620.6 460L623.6 460.8L626.5 461.6L629.5 462.4L632.5 463.2L635.4 464L638.4 464.8L641.3 465.6L644.3 466.4L647.3 467.2L650.2 468L653.2 468.8L656.1 469.6L659.1 470.3" stroke="#0000ff" stroke-dasharray="5.8 5.4"/>
</g>
<path d="M363.67 382.46V526.75M658.62 382.46V526.75" stroke="#333333" stroke-width="1.1" fill="none"/>
<path d="M363.12 383.01H659.17" stroke="#333333" stroke-width="1.1" fill="none" stroke-opacity="0.66"/>
<path d="M363.12 526.20H659.17" stroke="#333333" stroke-width="1.1" fill="none" stroke-opacity="0.66"/>
<text transform="translate(636.7,404.61) scale(0.86,1)" font-size="21.7" font-weight="bold" fill="#000">G</text>
</g>
<g>
<path d="M377.90 541.96V685.35M407.50 541.96V685.35M437.10 541.96V685.35M466.70 541.96V685.35M496.30 541.96V685.35M525.90 541.96V685.35M555.50 541.96V685.35M585.10 541.96V685.35M614.70 541.96V685.35M644.30 541.96V685.35M363.67 670.13H658.62M363.67 641.90H658.62M363.67 613.67H658.62M363.67 585.44H658.62M363.67 557.21H658.62" stroke="#e9e9e9" stroke-width="0.85" fill="none"/>
<path d="M392.70 541.96V685.35M422.30 541.96V685.35M451.90 541.96V685.35M481.50 541.96V685.35M511.10 541.96V685.35M540.70 541.96V685.35M570.30 541.96V685.35M599.90 541.96V685.35M629.50 541.96V685.35M363.67 684.24H658.62M363.67 656.01H658.62M363.67 627.78H658.62M363.67 599.56H658.62M363.67 571.33H658.62M363.67 543.10H658.62" stroke="#e9e9e9" stroke-width="1.5" fill="none"/>
<clipPath id="cp13"><rect x="363.67" y="541.96" width="294.95" height="143.39"/></clipPath>
<g clip-path="url(#cp13)" fill="none" stroke-width="1.58" stroke-linejoin="round">
<path d="M363.1 543.1L364.6 544.6L366.1 546.1L367.5 547.9L369 550L370.5 552.4L372 555.3L373.5 558.6L374.9 562.2L376.4 565.8L377.9 569.5L379.4 573.1L380.9 576.7L382.3 580.1L383.8 583.5L385.3 586.9L386.8 590.2L388.3 593.5L389.7 596.6L391.2 599.6L392.7 602.3L394.2 604.7L395.7 606.9L397.1 608.8L398.6 610.6L400.1 612.1L401.6 613.6L403.1 614.9L404.5 616.1L406 617.2L407.5 618.3L409 619.2L410.5 620.1L411.9 620.9L413.4 621.7L414.9 622.4L416.4 623.1L417.9 623.7L419.3 624.3L420.8 624.8L422.3 625.4L423.8 625.9L425.3 626.4L426.7 626.9L428.2 627.4L429.7 627.8L431.2 628.3L432.7 628.7L434.1 629.2L435.6 629.6L437.1 630.1L438.6 630.5L440.1 631L441.5 631.4L443 631.9L444.5 632.4L446 632.8L447.5 633.2L448.9 633.7L450.4 634.1L451.9 634.5L453.4 634.9L454.9 635.3L456.3 635.7L457.8 636L459.3 636.4L460.8 636.8L462.3 637.1L463.7 637.5L465.2 637.8L466.7 638.2L468.2 638.6L469.7 638.9L471.1 639.3L472.6 639.7L474.1 640L475.6 640.4L477.1 640.7L478.5 641.1L480 641.4L481.5 641.8L483 642.1L484.5 642.4L485.9 642.7L487.4 643L488.9 643.3L490.4 643.6L491.9 643.8L493.3 644.1L494.8 644.4L496.3 644.6L497.8 644.9L499.3 645.1L500.7 645.4L502.2 645.6L503.7 645.9L505.2 646.1L506.7 646.3L508.1 646.6L509.6 646.8L511.1 647L512.6 647.3L514.1 647.5L515.5 647.7L517 647.9L518.5 648.1L520 648.3L521.5 648.6L522.9 648.8L524.4 649L525.9 649.2L527.4 649.4L528.9 649.6L530.3 649.8L531.8 650L533.3 650.2L534.8 650.4L536.3 650.6L537.7 650.8L539.2 651L540.7 651.2L542.2 651.3L543.7 651.5L545.1 651.7L546.6 651.9L548.1 652L549.6 652.2L551.1 652.4L552.5 652.5L554 652.7L555.5 652.9L557 653.1L558.5 653.2L559.9 653.4L561.4 653.6L562.9 653.8L564.4 654L565.9 654.2L567.3 654.4L568.8 654.6L570.3 654.7L571.8 654.9L573.3 655.1L574.7 655.3L576.2 655.4L577.7 655.6L579.2 655.8L580.7 656L582.1 656.1L583.6 656.3L585.1 656.4L586.6 656.6L588.1 656.8L589.5 657L591 657.1L592.5 657.3L594 657.5L595.5 657.6L596.9 657.8L598.4 658L599.9 658.2L601.4 658.3L602.9 658.5L604.3 658.7L605.8 658.9L607.3 659.1L608.8 659.3L610.3 659.4L611.7 659.6L613.2 659.8L614.7 660L616.2 660.2L617.7 660.4L619.1 660.6L620.6 660.8L622.1 661L623.6 661.2L625.1 661.3L626.5 661.5L628 661.7L629.5 661.9L631 662.1L632.5 662.3L633.9 662.5L635.4 662.7L636.9 662.9L638.4 663.1L639.9 663.3L641.3 663.5L642.8 663.7L644.3 663.9L645.8 664.1L647.3 664.3L648.7 664.5L650.2 664.6L651.7 664.8L653.2 665L654.7 665.2L656.1 665.4L657.6 665.6L659.1 665.8" stroke="#ff0000"/>
<path d="M363.1 543.1L366.1 544L369 544.8L372 545.7L374.9 546.5L377.9 547.4L380.9 548.2L383.8 549.1L386.8 549.9L389.7 550.8L392.7 551.7L395.7 552.5L398.6 553.4L401.6 554.2L404.5 555.1L407.5 555.9L410.5 556.8L413.4 557.6L416.4 558.5L419.3 559.3L422.3 560.2L425.3 561L428.2 561.9L431.2 562.7L434.1 563.6L437.1 564.4L440.1 565.3L443 566.1L446 567L448.9 567.8L451.9 568.7L454.9 569.5L457.8 570.4L460.8 571.2L463.7 572.1L466.7 572.9L469.7 573.8L472.6 574.6L475.6 575.4L478.5 576.3L481.5 577.1L484.5 578L487.4 578.8L490.4 579.6L493.3 580.5L496.3 581.3L499.3 582.1L502.2 583L505.2 583.8L508.1 584.6L511.1 585.5L514.1 586.3L517 587.1L520 588L522.9 588.8L525.9 589.6L528.9 590.4L531.8 591.3L534.8 592.1L537.7 592.9L540.7 593.7L543.7 594.6L546.6 595.4L549.6 596.2L552.5 597L555.5 597.8L558.5 598.6L561.4 599.4L564.4 600.3L567.3 601.1L570.3 601.9L573.3 602.7L576.2 603.5L579.2 604.3L582.1 605.1L585.1 605.9L588.1 606.7L591 607.5L594 608.3L596.9 609.1L599.9 609.9L602.9 610.7L605.8 611.4L608.8 612.2L611.7 613L614.7 613.8L617.7 614.6L620.6 615.4L623.6 616.1L626.5 616.9L629.5 617.7L632.5 618.5L635.4 619.2L638.4 620L641.3 620.8L644.3 621.5L647.3 622.3L650.2 623.1L653.2 623.8L656.1 624.6L659.1 625.3" stroke="#ff0000" stroke-dasharray="5.8 5.4"/>
<path d="M363.1 543.1L364.6 544.4L366.1 545.9L367.5 547.5L369 549.5L370.5 551.9L372 554.7L373.5 557.9L374.9 561.3L376.4 564.9L377.9 568.4L379.4 571.7L380.9 574.9L382.3 577.9L383.8 580.8L385.3 583.6L386.8 586.3L388.3 588.8L389.7 591.3L391.2 593.6L392.7 595.7L394.2 597.8L395.7 599.7L397.1 601.5L398.6 603.2L400.1 604.9L401.6 606.4L403.1 607.9L404.5 609.4L406 610.8L407.5 612.1L409 613.4L410.5 614.7L411.9 615.9L413.4 617.1L414.9 618.2L416.4 619.3L417.9 620.4L419.3 621.5L420.8 622.5L422.3 623.5L423.8 624.5L425.3 625.5L426.7 626.5L428.2 627.4L429.7 628.4L431.2 629.3L432.7 630.2L434.1 631.1L435.6 632L437.1 632.9L438.6 633.8L440.1 634.7L441.5 635.6L443 636.4L444.5 637.3L446 638.1L447.5 639L448.9 639.8L450.4 640.6L451.9 641.3L453.4 642.1L454.9 642.9L456.3 643.6L457.8 644.3L459.3 645L460.8 645.7L462.3 646.4L463.7 647L465.2 647.7L466.7 648.3L468.2 649L469.7 649.6L471.1 650.2L472.6 650.8L474.1 651.4L475.6 652L477.1 652.6L478.5 653.2L480 653.7L481.5 654.3L483 654.9L484.5 655.4L485.9 655.9L487.4 656.4L488.9 656.9L490.4 657.4L491.9 657.9L493.3 658.4L494.8 658.8L496.3 659.3L497.8 659.7L499.3 660.2L500.7 660.6L502.2 661L503.7 661.4L505.2 661.8L506.7 662.2L508.1 662.6L509.6 662.9L511.1 663.3L512.6 663.6L514.1 664L515.5 664.3L517 664.6L518.5 664.9L520 665.2L521.5 665.5L522.9 665.8L524.4 666L525.9 666.3L527.4 666.5L528.9 666.7L530.3 667L531.8 667.2L533.3 667.4L534.8 667.6L536.3 667.8L537.7 667.9L539.2 668.1L540.7 668.3L542.2 668.4L543.7 668.6L545.1 668.7L546.6 668.9L548.1 669L549.6 669.1L551.1 669.2L552.5 669.3L554 669.5L555.5 669.6L557 669.7L558.5 669.8L559.9 669.9L561.4 670L562.9 670.1L564.4 670.2L565.9 670.2L567.3 670.3L568.8 670.4L570.3 670.5L571.8 670.5L573.3 670.6L574.7 670.7L576.2 670.7L577.7 670.8L579.2 670.8L580.7 670.8L582.1 670.9L583.6 670.9L585.1 670.9L586.6 670.9L588.1 670.9L589.5 671L591 671L592.5 671L594 671L595.5 671L596.9 670.9L598.4 670.9L599.9 670.9L601.4 670.9L602.9 670.9L604.3 670.8L605.8 670.8L607.3 670.8L608.8 670.8L610.3 670.7L611.7 670.7L613.2 670.7L614.7 670.7L616.2 670.7L617.7 670.7L619.1 670.7L620.6 670.7L622.1 670.7L623.6 670.7L625.1 670.7L626.5 670.7L628 670.7L629.5 670.7L631 670.7L632.5 670.7L633.9 670.7L635.4 670.7L636.9 670.7L638.4 670.7L639.9 670.7L641.3 670.7L642.8 670.7L644.3 670.7L645.8 670.7L647.3 670.7L648.7 670.7L650.2 670.7L651.7 670.7L653.2 670.7L654.7 670.7L656.1 670.7L657.6 670.7L659.1 670.7" stroke="#0000ff"/>
<path d="M363.1 543.1L366.1 544L369 544.8L372 545.7L374.9 546.5L377.9 547.4L380.9 548.2L383.8 549.1L386.8 549.9L389.7 550.8L392.7 551.7L395.7 552.5L398.6 553.4L401.6 554.2L404.5 555.1L407.5 555.9L410.5 556.8L413.4 557.6L416.4 558.5L419.3 559.3L422.3 560.2L425.3 561L428.2 561.9L431.2 562.7L434.1 563.6L437.1 564.4L440.1 565.3L443 566.1L446 567L448.9 567.8L451.9 568.7L454.9 569.5L457.8 570.4L460.8 571.2L463.7 572.1L466.7 572.9L469.7 573.8L472.6 574.6L475.6 575.4L478.5 576.3L481.5 577.1L484.5 578L487.4 578.8L490.4 579.6L493.3 580.5L496.3 581.3L499.3 582.1L502.2 583L505.2 583.8L508.1 584.6L511.1 585.5L514.1 586.3L517 587.1L520 588L522.9 588.8L525.9 589.6L528.9 590.4L531.8 591.3L534.8 592.1L537.7 592.9L540.7 593.7L543.7 594.6L546.6 595.4L549.6 596.2L552.5 597L555.5 597.8L558.5 598.6L561.4 599.4L564.4 600.3L567.3 601.1L570.3 601.9L573.3 602.7L576.2 603.5L579.2 604.3L582.1 605.1L585.1 605.9L588.1 606.7L591 607.5L594 608.3L596.9 609.1L599.9 609.9L602.9 610.7L605.8 611.4L608.8 612.2L611.7 613L614.7 613.8L617.7 614.6L620.6 615.4L623.6 616.1L626.5 616.9L629.5 617.7L632.5 618.5L635.4 619.2L638.4 620L641.3 620.8L644.3 621.5L647.3 622.3L650.2 623.1L653.2 623.8L656.1 624.6L659.1 625.3" stroke="#0000ff" stroke-dasharray="5.8 5.4"/>
</g>
<path d="M363.67 541.56V686.03M658.62 541.56V686.03" stroke="#333333" stroke-width="1.1" fill="none"/>
<path d="M363.12 542.11H659.17" stroke="#333333" stroke-width="1.1" fill="none" stroke-opacity="0.66"/>
<path d="M363.12 685.48H659.17" stroke="#333333" stroke-width="1.1" fill="none" stroke-opacity="1"/>
<text transform="translate(636.7,563.71) scale(0.86,1)" font-size="21.7" font-weight="bold" fill="#000">H</text>
</g>
<rect x="52.6" y="40.6" width="294.95" height="23.66" fill="#cccccc" stroke="#333333" stroke-width="1.2"/>
<text x="200.07" y="57.50" font-size="14.67" text-anchor="middle" fill="#1a1a1a">3.0 mm pupil</text>
<rect x="363.67" y="40.6" width="294.95" height="23.66" fill="#cccccc" stroke="#333333" stroke-width="1.2"/>
<text x="511.14" y="57.50" font-size="14.67" text-anchor="middle" fill="#1a1a1a">4.5 mm pupil</text>
<rect x="659.12" y="64.66" width="24.1" height="142.99" fill="#cccccc"/>
<path d="M659.12 64.16V208.15" stroke="#333333" stroke-width="1.1" fill="none"/>
<path d="M659.12 64.66H683.22V207.65H659.12" stroke="#333333" stroke-width="1.1" fill="none" stroke-opacity="0.66"/>
<text transform="translate(666.17,136.16) rotate(90)" font-size="14.67" text-anchor="middle" fill="#1a1a1a">NIMO</text>
<rect x="659.12" y="223.76" width="24.1" height="142.99" fill="#cccccc"/>
<path d="M659.12 223.26V367.25" stroke="#333333" stroke-width="1.1" fill="none"/>
<path d="M659.12 223.76H683.22V366.75H659.12" stroke="#333333" stroke-width="1.1" fill="none" stroke-opacity="0.66"/>
<text transform="translate(666.17,295.25) rotate(90)" font-size="14.67" text-anchor="middle" fill="#1a1a1a"><tspan font-style="italic">in vivo</tspan> internal</text>
<rect x="659.12" y="382.86" width="24.1" height="142.99" fill="#cccccc"/>
<path d="M659.12 382.36V526.35" stroke="#333333" stroke-width="1.1" fill="none"/>
<path d="M659.12 382.86H683.22V525.85H659.12" stroke="#333333" stroke-width="1.1" fill="none" stroke-opacity="0.66"/>
<text transform="translate(666.17,454.36) rotate(90)" font-size="14.67" text-anchor="middle" fill="#1a1a1a">NIMO + Cornea ISO2</text>
<rect x="659.12" y="541.96" width="24.1" height="142.99" fill="#cccccc"/>
<path d="M659.12 541.46V685.45" stroke="#333333" stroke-width="1.1" fill="none"/>
<path d="M659.12 541.96H683.22V684.95H659.12" stroke="#333333" stroke-width="1.1" fill="none" stroke-opacity="0.66"/>
<text transform="translate(666.17,613.45) rotate(90)" font-size="14.67" text-anchor="middle" fill="#1a1a1a"><tspan font-style="italic">in vivo</tspan> ocular</text>
<text x="45.1" y="212.04" font-size="14.3" text-anchor="end" fill="#3b3b3b">0.0</text>
<text x="45.1" y="183.81" font-size="14.3" text-anchor="end" fill="#3b3b3b">0.2</text>
<text x="45.1" y="155.58" font-size="14.3" text-anchor="end" fill="#3b3b3b">0.4</text>
<text x="45.1" y="127.36" font-size="14.3" text-anchor="end" fill="#3b3b3b">0.6</text>
<text x="45.1" y="99.13" font-size="14.3" text-anchor="end" fill="#3b3b3b">0.8</text>
<text x="45.1" y="70.90" font-size="14.3" text-anchor="end" fill="#3b3b3b">1.0</text>
<text x="45.1" y="371.14" font-size="14.3" text-anchor="end" fill="#3b3b3b">0.0</text>
<text x="45.1" y="342.91" font-size="14.3" text-anchor="end" fill="#3b3b3b">0.2</text>
<text x="45.1" y="314.68" font-size="14.3" text-anchor="end" fill="#3b3b3b">0.4</text>
<text x="45.1" y="286.46" font-size="14.3" text-anchor="end" fill="#3b3b3b">0.6</text>
<text x="45.1" y="258.23" font-size="14.3" text-anchor="end" fill="#3b3b3b">0.8</text>
<text x="45.1" y="230.00" font-size="14.3" text-anchor="end" fill="#3b3b3b">1.0</text>
<text x="45.1" y="530.24" font-size="14.3" text-anchor="end" fill="#3b3b3b">0.0</text>
<text x="45.1" y="502.01" font-size="14.3" text-anchor="end" fill="#3b3b3b">0.2</text>
<text x="45.1" y="473.78" font-size="14.3" text-anchor="end" fill="#3b3b3b">0.4</text>
<text x="45.1" y="445.56" font-size="14.3" text-anchor="end" fill="#3b3b3b">0.6</text>
<text x="45.1" y="417.33" font-size="14.3" text-anchor="end" fill="#3b3b3b">0.8</text>
<text x="45.1" y="389.10" font-size="14.3" text-anchor="end" fill="#3b3b3b">1.0</text>
<text x="45.1" y="689.34" font-size="14.3" text-anchor="end" fill="#3b3b3b">0.0</text>
<text x="45.1" y="661.11" font-size="14.3" text-anchor="end" fill="#3b3b3b">0.2</text>
<text x="45.1" y="632.88" font-size="14.3" text-anchor="end" fill="#3b3b3b">0.4</text>
<text x="45.1" y="604.66" font-size="14.3" text-anchor="end" fill="#3b3b3b">0.6</text>
<text x="45.1" y="576.43" font-size="14.3" text-anchor="end" fill="#3b3b3b">0.8</text>
<text x="45.1" y="548.20" font-size="14.3" text-anchor="end" fill="#3b3b3b">1.0</text>
<text x="52.00" y="702.45" font-size="14.3" text-anchor="middle" fill="#3b3b3b">0</text>
<text x="81.60" y="702.45" font-size="14.3" text-anchor="middle" fill="#3b3b3b">20</text>
<text x="111.20" y="702.45" font-size="14.3" text-anchor="middle" fill="#3b3b3b">40</text>
<text x="140.80" y="702.45" font-size="14.3" text-anchor="middle" fill="#3b3b3b">60</text>
<text x="170.40" y="702.45" font-size="14.3" text-anchor="middle" fill="#3b3b3b">80</text>
<text x="200.00" y="702.45" font-size="14.3" text-anchor="middle" fill="#3b3b3b">100</text>
<text x="229.60" y="702.45" font-size="14.3" text-anchor="middle" fill="#3b3b3b">120</text>
<text x="259.20" y="702.45" font-size="14.3" text-anchor="middle" fill="#3b3b3b">140</text>
<text x="288.80" y="702.45" font-size="14.3" text-anchor="middle" fill="#3b3b3b">160</text>
<text x="318.40" y="702.45" font-size="14.3" text-anchor="middle" fill="#3b3b3b">180</text>
<text x="348.00" y="702.45" font-size="14.3" text-anchor="middle" fill="#3b3b3b">200</text>
<text x="363.10" y="702.45" font-size="14.3" text-anchor="middle" fill="#3b3b3b">0</text>
<text x="392.70" y="702.45" font-size="14.3" text-anchor="middle" fill="#3b3b3b">20</text>
<text x="422.30" y="702.45" font-size="14.3" text-anchor="middle" fill="#3b3b3b">40</text>
<text x="451.90" y="702.45" font-size="14.3" text-anchor="middle" fill="#3b3b3b">60</text>
<text x="481.50" y="702.45" font-size="14.3" text-anchor="middle" fill="#3b3b3b">80</text>
<text x="511.10" y="702.45" font-size="14.3" text-anchor="middle" fill="#3b3b3b">100</text>
<text x="540.70" y="702.45" font-size="14.3" text-anchor="middle" fill="#3b3b3b">120</text>
<text x="570.30" y="702.45" font-size="14.3" text-anchor="middle" fill="#3b3b3b">140</text>
<text x="599.90" y="702.45" font-size="14.3" text-anchor="middle" fill="#3b3b3b">160</text>
<text x="629.50" y="702.45" font-size="14.3" text-anchor="middle" fill="#3b3b3b">180</text>
<text x="659.10" y="702.45" font-size="14.3" text-anchor="middle" fill="#3b3b3b">200</text>
<path d="M48.40 206.94H52.10M48.40 178.71H52.10M48.40 150.48H52.10M48.40 122.26H52.10M48.40 94.03H52.10M48.40 65.80H52.10M48.40 366.04H52.10M48.40 337.81H52.10M48.40 309.58H52.10M48.40 281.36H52.10M48.40 253.13H52.10M48.40 224.90H52.10M48.40 525.14H52.10M48.40 496.91H52.10M48.40 468.68H52.10M48.40 440.46H52.10M48.40 412.23H52.10M48.40 384.00H52.10M48.40 684.24H52.10M48.40 656.01H52.10M48.40 627.78H52.10M48.40 599.56H52.10M48.40 571.33H52.10M48.40 543.10H52.10M52.00 685.85V689.55M81.60 685.85V689.55M111.20 685.85V689.55M140.80 685.85V689.55M170.40 685.85V689.55M200.00 685.85V689.55M229.60 685.85V689.55M259.20 685.85V689.55M288.80 685.85V689.55M318.40 685.85V689.55M348.00 685.85V689.55M363.10 685.85V689.55M392.70 685.85V689.55M422.30 685.85V689.55M451.90 685.85V689.55M481.50 685.85V689.55M511.10 685.85V689.55M540.70 685.85V689.55M570.30 685.85V689.55M599.90 685.85V689.55M629.50 685.85V689.55M659.10 685.85V689.55" stroke="#333333" stroke-width="1.4" fill="none"/>
<text x="355.6" y="729.6" font-size="18.4" font-weight="bold" text-anchor="middle" fill="#000">Spatial Frequency (lp/mm)</text>
<text transform="translate(14.6,374.9) rotate(-90)" font-size="18.6" font-weight="bold" text-anchor="middle" fill="#000">MTF</text>
<text x="40.1" y="12.4" font-size="15.75" fill="#000">Direction</text>
<path d="M111.9 7.05H130.3" stroke="#ff0000" stroke-width="1.8800000000000001"/>
<text x="139.2" y="11.9" font-size="14.2" fill="#000">Sagital</text>
<path d="M192.8 7.05H211.2" stroke="#0000ff" stroke-width="1.8800000000000001"/>
<text x="221.5" y="11.9" font-size="14.3" fill="#000">Tangential</text>
<text x="315.4" y="12.4" font-size="15.75" fill="#000">Representation</text>
<path d="M431.8 7.05H450.2" stroke="#000" stroke-width="1.8800000000000001"/>
<text x="460.1" y="11.9" font-size="14.3" fill="#000">Actual value</text>
<path d="M547.3 7.05H565.7" stroke="#000" stroke-width="1.8800000000000001" stroke-dasharray="6.1 5.2"/>
<text x="574.9" y="11.9" font-size="14.3" fill="#000">Difraction Limit</text>
</svg>
</body></html>
